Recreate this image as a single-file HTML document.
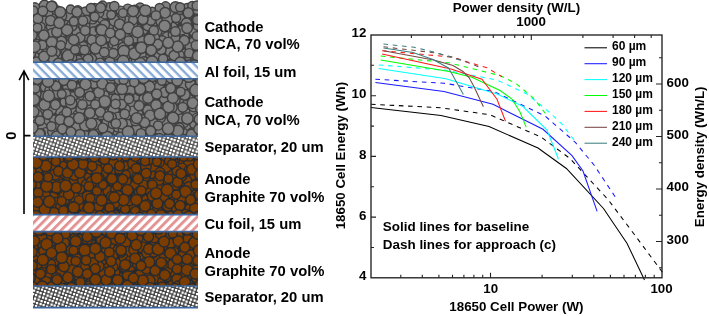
<!DOCTYPE html>
<html><head><meta charset="utf-8"><title>Cell stack and Ragone plot</title>
<style>
html,body{margin:0;padding:0;background:#fff}
svg{display:block}
text{font-family:"Liberation Sans",Arial,Helvetica,sans-serif;font-weight:bold;fill:#000}
.l{font-size:14.8px}
.a{font-size:13.33px}
.g{font-size:12px}
.c{fill:none;stroke-width:1.05}
.d{stroke-dasharray:4.6 4.7}
.t{stroke:#222;stroke-width:1.1;fill:none}
</style></head><body>
<svg width="709" height="316" viewBox="0 0 709 316">
<rect width="709" height="316" fill="#fff"/>
<defs>
<pattern id="al" width="6.2" height="6.2" patternUnits="userSpaceOnUse" patternTransform="rotate(45)"><rect width="6.2" height="6.2" fill="#fff"/><rect width="6.2" height="2.3" fill="#88aad8"/></pattern>
<pattern id="cu" width="6.2" height="6.2" patternUnits="userSpaceOnUse" patternTransform="rotate(-45)"><rect width="6.2" height="6.2" fill="#fff"/><rect width="6.2" height="2.9" fill="#e29494"/></pattern>
<clipPath id="kc1"><rect x="33" y="0" width="165" height="62"/></clipPath>
<clipPath id="kc2"><rect x="33" y="79" width="165" height="57"/></clipPath>
<clipPath id="ka1"><rect x="33" y="157" width="165" height="57"/></clipPath>
<clipPath id="ka2"><rect x="33" y="232" width="165" height="54"/></clipPath>
</defs>
<g clip-path="url(#kc1)"><rect x="33" y="9" width="165" height="53" fill="#404040"/><g fill="#808080" stroke="#404040" stroke-width="1.45"><circle cx="113.2" cy="38.3" r="4.6"/><circle cx="69.3" cy="16.7" r="5.0"/><circle cx="42.6" cy="58.9" r="4.8"/><circle cx="70.6" cy="63.5" r="5.0"/><circle cx="89.1" cy="45.4" r="4.9"/><circle cx="174.4" cy="20.8" r="5.2"/><circle cx="109.3" cy="28.8" r="5.4"/><circle cx="101.9" cy="34.4" r="5.0"/><circle cx="75.0" cy="20.1" r="4.3"/><circle cx="189.3" cy="28.4" r="4.3"/><circle cx="196.8" cy="19.6" r="5.1"/><circle cx="140.1" cy="7.8" r="4.8"/><circle cx="100.3" cy="20.0" r="5.3"/><circle cx="85.6" cy="35.8" r="5.2"/><circle cx="187.8" cy="58.3" r="4.5"/><circle cx="60.8" cy="64.2" r="5.5"/><circle cx="161.8" cy="33.9" r="4.3"/><circle cx="143.3" cy="29.9" r="4.6"/><circle cx="118.1" cy="28.1" r="5.0"/><circle cx="39.1" cy="20.7" r="4.9"/><circle cx="169.9" cy="41.8" r="5.2"/><circle cx="148.2" cy="38.1" r="4.4"/><circle cx="59.4" cy="57.2" r="5.6"/><circle cx="156.9" cy="16.7" r="5.3"/><circle cx="167.4" cy="63.6" r="5.5"/><circle cx="84.5" cy="65.0" r="4.3"/><circle cx="45.5" cy="52.7" r="5.2"/><circle cx="193.8" cy="41.7" r="4.9"/><circle cx="71.8" cy="37.6" r="5.2"/><circle cx="167.0" cy="36.7" r="4.9"/><circle cx="156.1" cy="25.0" r="5.0"/><circle cx="68.7" cy="31.7" r="5.4"/><circle cx="178.7" cy="46.4" r="4.4"/><circle cx="100.8" cy="62.2" r="5.5"/><circle cx="102.7" cy="40.6" r="4.3"/><circle cx="143.8" cy="56.4" r="4.8"/><circle cx="65.9" cy="59.2" r="4.9"/><circle cx="130.9" cy="15.1" r="4.6"/><circle cx="172.6" cy="34.5" r="4.3"/><circle cx="126.5" cy="29.9" r="4.2"/><circle cx="77.8" cy="10.6" r="4.8"/><circle cx="107.4" cy="36.5" r="5.5"/><circle cx="94.7" cy="7.9" r="4.4"/><circle cx="134.6" cy="10.5" r="5.3"/><circle cx="125.8" cy="20.5" r="4.7"/><circle cx="118.8" cy="41.7" r="4.9"/><circle cx="78.5" cy="25.6" r="5.1"/><circle cx="140.8" cy="46.0" r="4.8"/><circle cx="33.9" cy="40.1" r="5.2"/><circle cx="156.6" cy="56.3" r="4.7"/><circle cx="200.3" cy="49.7" r="5.2"/><circle cx="121.9" cy="61.9" r="4.5"/><circle cx="38.3" cy="49.4" r="4.4"/><circle cx="72.9" cy="52.3" r="4.3"/><circle cx="199.9" cy="57.2" r="5.2"/><circle cx="105.3" cy="54.5" r="4.3"/><circle cx="161.9" cy="40.9" r="5.1"/><circle cx="74.8" cy="43.5" r="4.5"/><circle cx="83.3" cy="45.8" r="4.3"/><circle cx="138.9" cy="35.3" r="5.3"/><circle cx="194.7" cy="61.4" r="4.3"/><circle cx="55.8" cy="38.8" r="4.2"/><circle cx="46.0" cy="28.9" r="4.3"/><circle cx="38.3" cy="35.1" r="4.7"/><circle cx="129.9" cy="59.1" r="4.3"/><circle cx="96.4" cy="47.9" r="5.0"/><circle cx="61.6" cy="33.4" r="5.1"/><circle cx="51.6" cy="17.7" r="4.9"/><circle cx="62.6" cy="47.7" r="4.4"/><circle cx="62.5" cy="16.0" r="4.2"/><circle cx="78.8" cy="49.2" r="4.5"/><circle cx="76.0" cy="30.9" r="4.4"/><circle cx="32.6" cy="34.5" r="4.3"/><circle cx="116.2" cy="63.9" r="5.3"/><circle cx="165.2" cy="56.2" r="5.0"/><circle cx="175.6" cy="39.9" r="5.4"/><circle cx="54.7" cy="52.4" r="5.6"/><circle cx="112.2" cy="15.2" r="5.2"/><circle cx="109.2" cy="8.3" r="5.6"/><circle cx="137.6" cy="29.2" r="5.1"/><circle cx="68.9" cy="44.8" r="4.7"/><circle cx="91.1" cy="65.0" r="4.3"/><circle cx="94.6" cy="25.3" r="5.4"/><circle cx="150.0" cy="56.6" r="4.2"/><circle cx="156.8" cy="31.1" r="5.3"/><circle cx="134.2" cy="38.4" r="4.6"/><circle cx="102.6" cy="5.2" r="4.2"/><circle cx="44.9" cy="21.8" r="5.5"/><circle cx="171.3" cy="13.8" r="5.0"/><circle cx="165.6" cy="6.4" r="4.6"/><circle cx="30.2" cy="62.6" r="5.3"/><circle cx="86.7" cy="53.8" r="4.3"/><circle cx="149.9" cy="62.6" r="4.2"/><circle cx="66.0" cy="25.8" r="5.4"/><circle cx="137.6" cy="50.7" r="4.6"/><circle cx="104.7" cy="24.6" r="4.8"/><circle cx="160.8" cy="21.4" r="4.9"/><circle cx="48.6" cy="12.2" r="4.5"/><circle cx="197.1" cy="10.0" r="4.5"/><circle cx="48.5" cy="64.2" r="4.8"/><circle cx="152.1" cy="11.9" r="4.6"/><circle cx="84.8" cy="59.2" r="5.4"/><circle cx="94.4" cy="37.1" r="5.4"/><circle cx="129.2" cy="49.3" r="5.3"/><circle cx="92.5" cy="18.8" r="5.1"/><circle cx="162.4" cy="13.6" r="4.7"/><circle cx="85.6" cy="11.8" r="4.9"/><circle cx="194.0" cy="31.6" r="5.0"/><circle cx="187.8" cy="14.4" r="5.6"/><circle cx="135.3" cy="19.1" r="4.7"/><circle cx="200.6" cy="64.7" r="5.4"/><circle cx="108.9" cy="48.9" r="4.7"/><circle cx="197.6" cy="26.0" r="4.3"/><circle cx="40.3" cy="11.7" r="4.7"/><circle cx="132.8" cy="24.3" r="4.8"/><circle cx="185.3" cy="53.2" r="4.5"/><circle cx="32.3" cy="45.7" r="5.4"/><circle cx="93.8" cy="31.3" r="4.5"/><circle cx="77.9" cy="59.7" r="4.5"/><circle cx="147.9" cy="25.4" r="5.3"/><circle cx="50.1" cy="46.2" r="5.0"/><circle cx="187.2" cy="8.5" r="5.1"/><circle cx="44.4" cy="5.6" r="5.2"/><circle cx="140.1" cy="14.0" r="5.1"/><circle cx="61.5" cy="41.4" r="5.1"/><circle cx="193.8" cy="55.1" r="4.2"/><circle cx="154.9" cy="37.5" r="4.6"/><circle cx="98.5" cy="55.1" r="4.7"/><circle cx="159.6" cy="7.9" r="4.5"/><circle cx="91.0" cy="59.2" r="5.6"/><circle cx="71.7" cy="25.7" r="5.3"/><circle cx="127.8" cy="8.8" r="4.7"/><circle cx="200.2" cy="41.6" r="5.3"/><circle cx="37.2" cy="63.8" r="5.6"/><circle cx="45.4" cy="38.0" r="4.5"/><circle cx="125.7" cy="55.5" r="5.1"/><circle cx="102.7" cy="47.1" r="5.5"/><circle cx="65.5" cy="53.3" r="4.4"/><circle cx="184.4" cy="35.8" r="4.7"/><circle cx="172.3" cy="27.6" r="5.3"/><circle cx="71.6" cy="57.8" r="5.1"/><circle cx="118.2" cy="35.5" r="5.0"/><circle cx="42.4" cy="45.0" r="4.7"/><circle cx="178.2" cy="12.1" r="4.4"/><circle cx="184.9" cy="43.0" r="4.8"/><circle cx="148.8" cy="43.8" r="4.5"/><circle cx="174.5" cy="58.6" r="4.5"/><circle cx="84.3" cy="26.2" r="5.5"/><circle cx="56.9" cy="10.5" r="4.7"/><circle cx="189.6" cy="64.3" r="4.3"/><circle cx="166.2" cy="46.4" r="5.0"/><circle cx="105.0" cy="14.3" r="4.6"/><circle cx="181.6" cy="30.2" r="4.8"/><circle cx="176.6" cy="64.1" r="4.6"/><circle cx="182.4" cy="63.7" r="5.1"/><circle cx="141.8" cy="40.1" r="4.4"/><circle cx="34.9" cy="7.4" r="4.6"/><circle cx="166.2" cy="25.7" r="5.2"/><circle cx="58.0" cy="22.9" r="5.0"/><circle cx="200.5" cy="34.4" r="4.5"/><circle cx="151.0" cy="20.7" r="4.5"/><circle cx="146.0" cy="13.4" r="4.4"/><circle cx="167.4" cy="20.0" r="5.4"/><circle cx="132.2" cy="31.0" r="4.8"/><circle cx="120.5" cy="10.6" r="4.5"/><circle cx="100.1" cy="29.0" r="4.9"/><circle cx="126.6" cy="38.6" r="5.1"/><circle cx="80.1" cy="16.7" r="4.4"/><circle cx="110.1" cy="63.6" r="5.3"/><circle cx="179.6" cy="55.2" r="4.6"/><circle cx="144.0" cy="62.1" r="5.4"/><circle cx="142.6" cy="20.2" r="5.1"/><circle cx="40.5" cy="26.9" r="4.7"/><circle cx="160.9" cy="63.8" r="4.7"/><circle cx="51.5" cy="26.4" r="5.2"/><circle cx="175.5" cy="7.1" r="5.4"/><circle cx="53.2" cy="58.8" r="5.0"/><circle cx="135.7" cy="60.2" r="4.4"/><circle cx="99.3" cy="12.9" r="4.4"/><circle cx="32.8" cy="17.7" r="4.8"/><circle cx="80.1" cy="37.5" r="4.9"/><circle cx="120.1" cy="19.1" r="5.2"/><circle cx="180.6" cy="18.5" r="4.2"/><circle cx="33.9" cy="25.6" r="4.7"/><circle cx="35.4" cy="56.8" r="4.3"/><circle cx="189.5" cy="47.0" r="4.4"/><circle cx="30.2" cy="53.4" r="5.4"/><circle cx="51.9" cy="33.1" r="4.5"/><circle cx="86.3" cy="19.5" r="4.3"/><circle cx="113.2" cy="44.1" r="4.7"/><circle cx="116.5" cy="48.8" r="4.7"/><circle cx="114.9" cy="54.5" r="5.4"/><circle cx="170.1" cy="51.3" r="5.1"/><circle cx="114.5" cy="20.7" r="5.4"/><circle cx="186.5" cy="23.1" r="5.2"/><circle cx="123.4" cy="48.0" r="5.5"/><circle cx="161.2" cy="49.8" r="4.8"/><circle cx="149.9" cy="49.6" r="5.6"/><circle cx="70.6" cy="9.4" r="4.3"/><circle cx="52.2" cy="6.0" r="4.9"/><circle cx="192.3" cy="5.9" r="4.5"/><circle cx="156.0" cy="45.8" r="5.3"/><circle cx="153.8" cy="30.4" r="4.6"/><circle cx="142.9" cy="19.3" r="5.1"/><circle cx="91.0" cy="8.1" r="4.7"/><circle cx="123.8" cy="51.3" r="5.8"/><circle cx="85.2" cy="30.6" r="4.8"/><circle cx="197.2" cy="20.0" r="4.5"/><circle cx="176.1" cy="17.9" r="4.5"/><circle cx="56.9" cy="32.0" r="5.2"/><circle cx="128.7" cy="40.8" r="4.8"/><circle cx="58.4" cy="63.4" r="5.1"/><circle cx="51.8" cy="42.2" r="5.5"/><circle cx="196.5" cy="36.0" r="4.4"/><circle cx="92.0" cy="40.1" r="5.0"/><circle cx="36.4" cy="62.1" r="5.1"/><circle cx="133.1" cy="20.2" r="4.4"/><circle cx="140.1" cy="63.4" r="5.8"/><circle cx="189.1" cy="53.2" r="4.6"/><circle cx="119.7" cy="24.2" r="5.2"/><circle cx="145.3" cy="10.6" r="5.7"/><circle cx="51.6" cy="6.5" r="5.3"/><circle cx="109.8" cy="61.8" r="4.8"/><circle cx="111.2" cy="14.8" r="4.4"/><circle cx="101.8" cy="30.0" r="5.6"/><circle cx="73.7" cy="39.9" r="5.2"/><circle cx="33.2" cy="10.5" r="4.6"/><circle cx="88.0" cy="59.1" r="4.9"/><circle cx="188.3" cy="12.8" r="5.1"/><circle cx="128.5" cy="27.9" r="5.9"/><circle cx="187.1" cy="28.1" r="5.3"/><circle cx="174.1" cy="55.5" r="5.1"/><circle cx="157.9" cy="44.2" r="4.9"/><circle cx="134.5" cy="53.7" r="5.9"/><circle cx="197.7" cy="56.1" r="5.3"/><circle cx="196.0" cy="45.3" r="4.8"/><circle cx="141.3" cy="47.7" r="5.7"/><circle cx="68.1" cy="55.8" r="5.9"/><circle cx="164.6" cy="25.9" r="5.7"/><circle cx="50.6" cy="20.6" r="5.2"/><circle cx="184.3" cy="40.5" r="5.0"/><circle cx="44.0" cy="56.5" r="5.3"/><circle cx="114.3" cy="6.2" r="4.7"/><circle cx="95.6" cy="48.3" r="5.6"/><circle cx="101.1" cy="40.5" r="5.3"/><circle cx="31.5" cy="35.0" r="5.8"/><circle cx="113.3" cy="53.3" r="4.8"/><circle cx="196.7" cy="5.5" r="4.6"/><circle cx="149.5" cy="39.5" r="5.5"/><circle cx="60.2" cy="12.1" r="5.4"/><circle cx="163.1" cy="58.8" r="4.6"/><circle cx="151.2" cy="50.3" r="5.3"/><circle cx="152.1" cy="61.7" r="5.8"/><circle cx="180.3" cy="62.3" r="5.3"/><circle cx="177.7" cy="46.6" r="5.6"/><circle cx="171.0" cy="64.3" r="4.4"/><circle cx="110.3" cy="33.0" r="4.9"/><circle cx="94.7" cy="16.8" r="4.5"/><circle cx="37.8" cy="18.7" r="5.0"/><circle cx="60.8" cy="45.2" r="4.5"/><circle cx="165.1" cy="12.8" r="5.3"/><circle cx="175.4" cy="31.5" r="4.8"/><circle cx="75.1" cy="49.8" r="4.5"/><circle cx="84.5" cy="50.0" r="4.8"/><circle cx="122.9" cy="13.0" r="4.4"/><circle cx="67.1" cy="30.0" r="5.6"/><circle cx="77.0" cy="12.0" r="5.1"/><circle cx="43.8" cy="35.3" r="5.2"/><circle cx="70.7" cy="64.5" r="4.8"/><circle cx="99.9" cy="63.1" r="5.0"/><circle cx="114.2" cy="41.1" r="4.5"/><circle cx="73.9" cy="21.5" r="4.5"/><circle cx="83.0" cy="20.8" r="4.7"/><circle cx="137.6" cy="31.9" r="5.8"/><circle cx="59.3" cy="23.0" r="5.4"/><circle cx="104.3" cy="52.2" r="4.8"/><circle cx="80.3" cy="63.9" r="5.1"/><circle cx="123.2" cy="61.1" r="5.9"/><circle cx="34.6" cy="46.8" r="5.7"/><circle cx="180.1" cy="7.3" r="4.5"/><circle cx="42.8" cy="11.1" r="4.8"/><circle cx="133.1" cy="11.2" r="5.5"/><circle cx="120.2" cy="34.4" r="5.2"/><circle cx="51.8" cy="51.2" r="5.0"/><circle cx="168.2" cy="42.8" r="5.4"/><circle cx="37.4" cy="27.8" r="4.5"/><circle cx="194.3" cy="64.6" r="4.6"/><circle cx="100.6" cy="7.8" r="5.0"/><circle cx="155.9" cy="15.4" r="4.7"/></g></g>
<g clip-path="url(#kc2)"><rect x="33" y="79" width="165" height="57" fill="#404040"/><g fill="#808080" stroke="#404040" stroke-width="1.45"><circle cx="42.8" cy="119.3" r="4.7"/><circle cx="129.2" cy="76.6" r="4.2"/><circle cx="94.4" cy="97.0" r="4.7"/><circle cx="62.3" cy="129.7" r="4.2"/><circle cx="155.0" cy="82.6" r="4.6"/><circle cx="68.9" cy="109.9" r="5.3"/><circle cx="136.7" cy="96.7" r="5.6"/><circle cx="186.8" cy="128.2" r="4.4"/><circle cx="92.1" cy="119.5" r="5.1"/><circle cx="115.1" cy="83.3" r="4.7"/><circle cx="192.9" cy="138.2" r="5.3"/><circle cx="39.8" cy="109.3" r="5.3"/><circle cx="184.9" cy="79.7" r="5.3"/><circle cx="59.6" cy="110.5" r="5.0"/><circle cx="189.1" cy="90.1" r="5.4"/><circle cx="45.5" cy="95.7" r="5.2"/><circle cx="109.6" cy="98.6" r="5.2"/><circle cx="77.8" cy="88.7" r="4.8"/><circle cx="124.0" cy="136.3" r="4.9"/><circle cx="180.8" cy="102.9" r="4.5"/><circle cx="111.3" cy="89.0" r="5.3"/><circle cx="138.1" cy="113.9" r="4.9"/><circle cx="150.5" cy="89.5" r="4.6"/><circle cx="48.5" cy="81.3" r="4.3"/><circle cx="41.5" cy="81.9" r="4.9"/><circle cx="149.1" cy="117.2" r="5.2"/><circle cx="74.6" cy="109.6" r="5.5"/><circle cx="155.0" cy="128.0" r="5.3"/><circle cx="43.5" cy="103.4" r="4.7"/><circle cx="111.0" cy="79.2" r="5.2"/><circle cx="97.9" cy="108.5" r="5.1"/><circle cx="119.4" cy="79.3" r="5.4"/><circle cx="33.7" cy="102.0" r="5.2"/><circle cx="133.8" cy="82.4" r="5.2"/><circle cx="80.8" cy="96.9" r="5.1"/><circle cx="67.3" cy="79.7" r="5.5"/><circle cx="141.5" cy="119.9" r="5.5"/><circle cx="169.5" cy="101.2" r="4.8"/><circle cx="168.6" cy="116.2" r="4.4"/><circle cx="30.7" cy="81.4" r="4.2"/><circle cx="51.4" cy="139.0" r="4.9"/><circle cx="67.2" cy="86.6" r="4.6"/><circle cx="103.5" cy="110.1" r="5.4"/><circle cx="45.6" cy="138.2" r="5.5"/><circle cx="64.5" cy="101.9" r="4.4"/><circle cx="78.0" cy="103.5" r="4.7"/><circle cx="81.4" cy="121.2" r="5.6"/><circle cx="148.3" cy="124.3" r="4.5"/><circle cx="174.2" cy="122.8" r="5.3"/><circle cx="85.5" cy="105.1" r="4.6"/><circle cx="138.7" cy="105.4" r="5.1"/><circle cx="92.5" cy="77.9" r="4.9"/><circle cx="165.3" cy="123.0" r="5.3"/><circle cx="97.4" cy="91.5" r="4.8"/><circle cx="190.7" cy="119.7" r="5.0"/><circle cx="124.0" cy="87.2" r="5.2"/><circle cx="189.6" cy="98.8" r="4.6"/><circle cx="109.0" cy="105.8" r="4.2"/><circle cx="104.4" cy="138.1" r="4.2"/><circle cx="77.6" cy="114.7" r="4.4"/><circle cx="121.5" cy="98.3" r="5.3"/><circle cx="105.9" cy="87.3" r="5.1"/><circle cx="37.7" cy="87.9" r="4.2"/><circle cx="125.7" cy="115.4" r="5.5"/><circle cx="143.5" cy="137.1" r="4.9"/><circle cx="36.3" cy="93.4" r="4.7"/><circle cx="187.9" cy="113.8" r="5.1"/><circle cx="144.4" cy="98.6" r="5.4"/><circle cx="115.9" cy="105.0" r="4.4"/><circle cx="199.0" cy="132.6" r="5.5"/><circle cx="45.0" cy="87.1" r="4.6"/><circle cx="193.6" cy="112.1" r="4.2"/><circle cx="68.8" cy="125.8" r="4.6"/><circle cx="114.7" cy="133.3" r="4.4"/><circle cx="173.3" cy="128.9" r="5.1"/><circle cx="104.6" cy="95.3" r="4.5"/><circle cx="139.3" cy="90.5" r="4.9"/><circle cx="34.8" cy="127.8" r="4.8"/><circle cx="117.4" cy="127.0" r="4.9"/><circle cx="174.1" cy="114.3" r="5.3"/><circle cx="136.4" cy="138.3" r="4.5"/><circle cx="178.4" cy="78.9" r="4.3"/><circle cx="32.2" cy="86.8" r="4.4"/><circle cx="194.6" cy="92.1" r="4.3"/><circle cx="194.5" cy="123.9" r="4.8"/><circle cx="72.0" cy="97.1" r="5.4"/><circle cx="82.4" cy="77.6" r="5.4"/><circle cx="108.6" cy="129.9" r="5.4"/><circle cx="145.2" cy="86.8" r="4.8"/><circle cx="36.4" cy="79.6" r="5.1"/><circle cx="47.5" cy="122.4" r="5.1"/><circle cx="165.8" cy="133.7" r="4.2"/><circle cx="48.6" cy="114.9" r="4.5"/><circle cx="200.7" cy="125.1" r="4.8"/><circle cx="130.6" cy="132.8" r="5.3"/><circle cx="118.3" cy="138.7" r="4.5"/><circle cx="51.3" cy="109.7" r="5.2"/><circle cx="113.7" cy="110.3" r="5.6"/><circle cx="159.9" cy="117.5" r="5.5"/><circle cx="30.1" cy="107.6" r="4.7"/><circle cx="132.5" cy="105.3" r="5.1"/><circle cx="175.8" cy="99.9" r="4.3"/><circle cx="184.3" cy="85.5" r="5.4"/><circle cx="52.0" cy="97.7" r="4.6"/><circle cx="191.4" cy="76.5" r="4.7"/><circle cx="90.1" cy="109.2" r="4.5"/><circle cx="99.6" cy="99.9" r="4.7"/><circle cx="36.8" cy="115.0" r="5.6"/><circle cx="54.8" cy="103.7" r="4.4"/><circle cx="152.9" cy="102.1" r="5.0"/><circle cx="184.0" cy="123.0" r="4.4"/><circle cx="177.6" cy="133.7" r="4.7"/><circle cx="127.9" cy="82.3" r="4.4"/><circle cx="115.5" cy="98.7" r="4.6"/><circle cx="177.0" cy="92.4" r="4.3"/><circle cx="138.9" cy="79.3" r="4.8"/><circle cx="199.9" cy="95.0" r="4.2"/><circle cx="106.8" cy="122.2" r="4.7"/><circle cx="62.4" cy="123.2" r="5.5"/><circle cx="149.2" cy="79.2" r="4.4"/><circle cx="180.2" cy="118.2" r="4.8"/><circle cx="73.6" cy="119.0" r="5.2"/><circle cx="83.4" cy="115.2" r="4.4"/><circle cx="54.5" cy="125.9" r="4.9"/><circle cx="173.5" cy="84.1" r="4.3"/><circle cx="178.2" cy="109.8" r="5.0"/><circle cx="190.6" cy="84.4" r="5.2"/><circle cx="118.7" cy="90.0" r="4.8"/><circle cx="130.5" cy="90.7" r="5.0"/><circle cx="42.1" cy="127.7" r="5.3"/><circle cx="141.4" cy="126.4" r="4.9"/><circle cx="159.5" cy="107.2" r="4.3"/><circle cx="45.8" cy="132.0" r="4.4"/><circle cx="132.8" cy="111.2" r="5.1"/><circle cx="163.9" cy="99.1" r="4.4"/><circle cx="200.7" cy="107.7" r="4.2"/><circle cx="71.3" cy="103.4" r="5.6"/><circle cx="58.7" cy="134.2" r="4.7"/><circle cx="100.8" cy="79.3" r="4.3"/><circle cx="94.4" cy="132.0" r="4.6"/><circle cx="78.8" cy="135.0" r="5.0"/><circle cx="156.5" cy="76.5" r="5.2"/><circle cx="67.7" cy="133.9" r="4.9"/><circle cx="118.0" cy="116.8" r="4.6"/><circle cx="40.4" cy="133.6" r="4.9"/><circle cx="84.9" cy="83.9" r="5.1"/><circle cx="151.4" cy="132.9" r="5.3"/><circle cx="196.9" cy="117.8" r="4.7"/><circle cx="163.1" cy="112.5" r="5.1"/><circle cx="54.4" cy="76.7" r="4.7"/><circle cx="73.1" cy="78.9" r="5.3"/><circle cx="191.9" cy="132.3" r="4.4"/><circle cx="94.3" cy="83.7" r="4.7"/><circle cx="88.4" cy="91.2" r="4.2"/><circle cx="33.9" cy="138.4" r="4.2"/><circle cx="49.5" cy="90.8" r="4.7"/><circle cx="54.1" cy="119.6" r="4.5"/><circle cx="155.8" cy="111.5" r="4.2"/><circle cx="49.2" cy="102.7" r="4.4"/><circle cx="129.2" cy="97.9" r="4.7"/><circle cx="127.7" cy="123.9" r="4.5"/><circle cx="155.6" cy="95.2" r="4.4"/><circle cx="112.5" cy="124.3" r="4.2"/><circle cx="199.1" cy="76.4" r="4.8"/><circle cx="76.9" cy="127.1" r="5.2"/><circle cx="186.7" cy="104.4" r="4.4"/><circle cx="126.0" cy="109.1" r="4.3"/><circle cx="100.5" cy="114.9" r="4.6"/><circle cx="171.3" cy="95.7" r="4.6"/><circle cx="121.7" cy="104.3" r="4.9"/><circle cx="183.5" cy="133.4" r="4.9"/><circle cx="165.7" cy="80.0" r="4.8"/><circle cx="171.1" cy="77.7" r="5.4"/><circle cx="30.4" cy="133.7" r="4.9"/><circle cx="159.0" cy="87.0" r="5.0"/><circle cx="63.6" cy="116.2" r="5.1"/><circle cx="186.3" cy="138.9" r="4.3"/><circle cx="99.2" cy="129.1" r="4.2"/><circle cx="172.1" cy="107.3" r="5.1"/><circle cx="123.0" cy="129.4" r="4.7"/><circle cx="85.1" cy="125.6" r="5.4"/><circle cx="96.6" cy="137.2" r="4.4"/><circle cx="80.8" cy="109.2" r="4.9"/><circle cx="35.2" cy="121.8" r="5.6"/><circle cx="193.9" cy="106.3" r="5.5"/><circle cx="172.5" cy="138.8" r="5.2"/><circle cx="54.8" cy="88.3" r="5.5"/><circle cx="90.7" cy="138.8" r="4.7"/><circle cx="145.8" cy="130.8" r="5.1"/><circle cx="136.5" cy="129.4" r="5.1"/><circle cx="135.4" cy="121.0" r="4.7"/><circle cx="52.5" cy="131.8" r="4.8"/><circle cx="160.2" cy="132.9" r="4.8"/><circle cx="198.2" cy="87.9" r="5.5"/><circle cx="65.7" cy="93.8" r="4.9"/><circle cx="57.9" cy="93.1" r="5.5"/><circle cx="153.6" cy="122.5" r="4.3"/><circle cx="30.6" cy="92.7" r="5.6"/><circle cx="164.9" cy="92.2" r="5.2"/><circle cx="85.4" cy="135.5" r="4.7"/><circle cx="88.1" cy="100.0" r="5.4"/><circle cx="94.2" cy="113.5" r="5.6"/><circle cx="103.4" cy="104.3" r="5.1"/><circle cx="110.1" cy="137.9" r="5.1"/><circle cx="184.7" cy="94.8" r="5.4"/><circle cx="122.0" cy="123.7" r="5.3"/><circle cx="111.2" cy="117.4" r="5.1"/><circle cx="72.4" cy="137.9" r="5.2"/><circle cx="157.6" cy="138.6" r="4.9"/><circle cx="95.8" cy="124.0" r="5.3"/><circle cx="170.6" cy="89.1" r="4.7"/><circle cx="198.4" cy="101.6" r="5.5"/><circle cx="61.3" cy="79.9" r="5.5"/><circle cx="31.0" cy="116.3" r="5.2"/><circle cx="147.8" cy="110.1" r="5.1"/><circle cx="179.4" cy="127.7" r="4.7"/><circle cx="91.4" cy="123.6" r="5.5"/><circle cx="98.9" cy="92.6" r="5.4"/><circle cx="191.5" cy="134.4" r="5.1"/><circle cx="188.7" cy="76.7" r="5.6"/><circle cx="56.0" cy="86.1" r="4.8"/><circle cx="168.6" cy="138.3" r="5.1"/><circle cx="168.5" cy="107.0" r="5.7"/><circle cx="33.9" cy="99.7" r="5.7"/><circle cx="115.9" cy="123.5" r="4.7"/><circle cx="158.1" cy="125.5" r="4.6"/><circle cx="198.9" cy="129.2" r="5.1"/><circle cx="173.1" cy="118.0" r="5.8"/><circle cx="35.5" cy="88.6" r="4.4"/><circle cx="111.4" cy="76.0" r="4.5"/><circle cx="74.4" cy="76.1" r="5.8"/><circle cx="182.8" cy="107.3" r="4.8"/><circle cx="66.7" cy="112.0" r="4.7"/><circle cx="148.0" cy="97.9" r="5.3"/><circle cx="89.8" cy="113.1" r="5.3"/><circle cx="149.4" cy="86.6" r="5.5"/><circle cx="177.9" cy="130.9" r="5.7"/><circle cx="172.9" cy="97.9" r="5.4"/><circle cx="156.7" cy="94.0" r="5.0"/><circle cx="61.7" cy="94.1" r="4.4"/><circle cx="107.1" cy="137.1" r="5.9"/><circle cx="156.1" cy="105.1" r="5.3"/><circle cx="55.4" cy="104.7" r="4.9"/><circle cx="187.4" cy="118.5" r="5.7"/><circle cx="150.0" cy="115.5" r="5.4"/><circle cx="102.9" cy="128.0" r="4.9"/><circle cx="115.6" cy="104.0" r="4.7"/><circle cx="102.3" cy="83.6" r="5.5"/><circle cx="48.1" cy="81.5" r="5.8"/><circle cx="85.5" cy="84.4" r="5.6"/><circle cx="93.5" cy="134.8" r="5.1"/><circle cx="100.3" cy="112.0" r="5.1"/><circle cx="159.3" cy="138.2" r="4.7"/><circle cx="79.6" cy="92.4" r="4.9"/><circle cx="150.6" cy="131.0" r="5.0"/><circle cx="89.9" cy="96.1" r="4.9"/><circle cx="44.6" cy="104.8" r="5.6"/><circle cx="180.6" cy="91.8" r="4.5"/><circle cx="199.9" cy="81.6" r="4.4"/><circle cx="39.9" cy="120.6" r="4.7"/><circle cx="79.1" cy="118.1" r="5.6"/><circle cx="177.3" cy="80.7" r="5.3"/><circle cx="37.3" cy="79.2" r="5.2"/><circle cx="60.1" cy="119.6" r="5.1"/><circle cx="82.4" cy="104.6" r="4.8"/><circle cx="140.1" cy="89.0" r="5.5"/><circle cx="152.7" cy="76.5" r="4.9"/><circle cx="124.7" cy="114.0" r="4.7"/><circle cx="56.9" cy="136.9" r="5.8"/><circle cx="168.2" cy="128.7" r="5.8"/><circle cx="120.7" cy="137.1" r="5.0"/><circle cx="51.4" cy="126.3" r="4.6"/><circle cx="122.1" cy="89.0" r="5.5"/><circle cx="128.9" cy="99.1" r="4.6"/><circle cx="143.5" cy="77.8" r="5.6"/><circle cx="199.1" cy="119.3" r="5.0"/><circle cx="108.4" cy="116.5" r="5.1"/><circle cx="80.0" cy="134.3" r="4.9"/><circle cx="62.4" cy="129.0" r="4.9"/><circle cx="47.8" cy="114.3" r="4.9"/><circle cx="159.9" cy="114.0" r="5.7"/><circle cx="70.2" cy="100.2" r="4.7"/><circle cx="123.6" cy="79.6" r="4.7"/><circle cx="39.7" cy="133.7" r="5.0"/><circle cx="128.2" cy="131.9" r="5.9"/><circle cx="110.6" cy="87.6" r="4.9"/><circle cx="200.5" cy="98.9" r="5.8"/><circle cx="195.6" cy="90.2" r="5.8"/><circle cx="141.0" cy="133.5" r="4.8"/><circle cx="139.1" cy="105.8" r="5.0"/><circle cx="134.2" cy="82.0" r="4.6"/><circle cx="144.6" cy="122.5" r="5.1"/><circle cx="48.7" cy="95.9" r="5.8"/><circle cx="33.4" cy="111.7" r="5.5"/><circle cx="192.7" cy="103.1" r="5.5"/><circle cx="170.6" cy="88.2" r="4.9"/><circle cx="69.0" cy="121.5" r="5.1"/><circle cx="63.9" cy="80.2" r="5.2"/><circle cx="32.3" cy="127.7" r="5.6"/><circle cx="161.9" cy="80.7" r="4.5"/><circle cx="95.5" cy="77.0" r="4.8"/><circle cx="72.0" cy="85.0" r="4.7"/><circle cx="136.7" cy="118.1" r="5.4"/><circle cx="183.4" cy="138.9" r="4.5"/><circle cx="104.8" cy="101.5" r="5.9"/><circle cx="70.9" cy="132.0" r="4.9"/><circle cx="95.3" cy="104.3" r="4.6"/><circle cx="200.4" cy="108.8" r="4.7"/></g></g>
<g clip-path="url(#ka1)"><rect x="33" y="157" width="165" height="57" fill="#272b30"/><g fill="#7a3c00" stroke="#272b30" stroke-width="1.45"><circle cx="177.4" cy="200.6" r="5.0"/><circle cx="87.3" cy="213.8" r="4.8"/><circle cx="170.1" cy="199.8" r="4.4"/><circle cx="101.2" cy="216.6" r="5.3"/><circle cx="128.0" cy="156.2" r="5.3"/><circle cx="80.4" cy="197.8" r="5.5"/><circle cx="59.5" cy="197.0" r="4.4"/><circle cx="142.8" cy="198.7" r="5.2"/><circle cx="64.9" cy="176.1" r="4.3"/><circle cx="178.1" cy="217.0" r="5.3"/><circle cx="134.3" cy="186.2" r="5.3"/><circle cx="192.3" cy="204.0" r="4.6"/><circle cx="102.6" cy="193.2" r="5.4"/><circle cx="132.5" cy="206.3" r="5.1"/><circle cx="38.9" cy="156.0" r="5.2"/><circle cx="199.3" cy="156.7" r="4.9"/><circle cx="121.3" cy="205.2" r="4.9"/><circle cx="154.3" cy="160.8" r="5.2"/><circle cx="30.5" cy="216.9" r="4.4"/><circle cx="114.7" cy="202.9" r="5.3"/><circle cx="135.5" cy="211.8" r="5.2"/><circle cx="172.7" cy="154.4" r="4.7"/><circle cx="144.6" cy="172.5" r="5.0"/><circle cx="181.5" cy="204.6" r="4.5"/><circle cx="139.3" cy="169.1" r="4.4"/><circle cx="153.2" cy="155.1" r="5.0"/><circle cx="123.8" cy="160.3" r="4.7"/><circle cx="198.2" cy="173.4" r="4.7"/><circle cx="92.7" cy="158.6" r="5.1"/><circle cx="110.9" cy="185.7" r="4.5"/><circle cx="193.1" cy="178.6" r="5.2"/><circle cx="142.1" cy="217.0" r="5.1"/><circle cx="120.2" cy="180.1" r="4.6"/><circle cx="194.8" cy="163.3" r="5.3"/><circle cx="104.3" cy="185.4" r="5.5"/><circle cx="168.5" cy="172.8" r="5.0"/><circle cx="86.7" cy="176.9" r="4.2"/><circle cx="72.3" cy="207.6" r="5.4"/><circle cx="124.0" cy="187.9" r="4.5"/><circle cx="182.7" cy="188.4" r="4.4"/><circle cx="33.5" cy="203.7" r="4.7"/><circle cx="97.7" cy="162.2" r="4.9"/><circle cx="65.5" cy="212.8" r="4.6"/><circle cx="53.4" cy="215.2" r="5.0"/><circle cx="176.0" cy="177.6" r="5.2"/><circle cx="110.6" cy="170.9" r="5.3"/><circle cx="166.2" cy="167.3" r="5.2"/><circle cx="49.3" cy="162.1" r="4.3"/><circle cx="163.6" cy="190.6" r="4.8"/><circle cx="90.8" cy="169.4" r="4.6"/><circle cx="105.6" cy="167.0" r="4.9"/><circle cx="108.2" cy="191.0" r="5.2"/><circle cx="44.2" cy="177.8" r="4.3"/><circle cx="60.6" cy="160.5" r="5.0"/><circle cx="169.5" cy="184.0" r="4.8"/><circle cx="95.0" cy="213.4" r="4.6"/><circle cx="148.1" cy="188.9" r="5.2"/><circle cx="43.7" cy="167.6" r="4.4"/><circle cx="126.5" cy="181.1" r="4.7"/><circle cx="32.7" cy="198.0" r="4.3"/><circle cx="167.8" cy="206.1" r="5.2"/><circle cx="48.7" cy="173.4" r="5.6"/><circle cx="128.4" cy="216.9" r="5.3"/><circle cx="171.6" cy="216.2" r="5.5"/><circle cx="123.4" cy="197.3" r="5.3"/><circle cx="70.1" cy="201.6" r="4.2"/><circle cx="63.8" cy="166.2" r="5.0"/><circle cx="64.6" cy="200.0" r="4.9"/><circle cx="158.5" cy="201.0" r="4.3"/><circle cx="70.5" cy="215.9" r="5.0"/><circle cx="156.9" cy="189.5" r="5.1"/><circle cx="153.6" cy="167.3" r="5.1"/><circle cx="176.7" cy="209.1" r="5.0"/><circle cx="176.5" cy="159.0" r="4.7"/><circle cx="161.6" cy="185.0" r="5.0"/><circle cx="146.9" cy="177.6" r="4.3"/><circle cx="124.9" cy="165.9" r="4.5"/><circle cx="81.2" cy="214.6" r="4.6"/><circle cx="106.8" cy="201.9" r="4.7"/><circle cx="80.4" cy="181.2" r="5.4"/><circle cx="152.8" cy="196.0" r="5.5"/><circle cx="55.1" cy="208.9" r="5.3"/><circle cx="53.1" cy="196.6" r="4.8"/><circle cx="124.7" cy="211.1" r="4.6"/><circle cx="43.2" cy="183.6" r="4.7"/><circle cx="189.5" cy="209.3" r="5.3"/><circle cx="152.7" cy="215.1" r="4.7"/><circle cx="97.7" cy="184.8" r="4.9"/><circle cx="60.1" cy="215.1" r="5.1"/><circle cx="90.8" cy="190.5" r="4.8"/><circle cx="39.2" cy="193.1" r="4.9"/><circle cx="45.6" cy="195.3" r="4.8"/><circle cx="154.4" cy="175.5" r="4.6"/><circle cx="77.4" cy="155.8" r="5.0"/><circle cx="41.3" cy="200.1" r="4.5"/><circle cx="33.5" cy="164.5" r="4.7"/><circle cx="181.4" cy="181.9" r="4.4"/><circle cx="30.8" cy="169.6" r="5.4"/><circle cx="181.1" cy="155.8" r="5.3"/><circle cx="150.5" cy="209.6" r="5.0"/><circle cx="56.6" cy="154.3" r="4.7"/><circle cx="68.2" cy="180.6" r="5.1"/><circle cx="198.4" cy="202.1" r="4.9"/><circle cx="81.6" cy="170.9" r="5.0"/><circle cx="107.0" cy="154.2" r="4.2"/><circle cx="187.2" cy="180.3" r="4.4"/><circle cx="175.2" cy="165.7" r="4.5"/><circle cx="143.9" cy="185.1" r="5.0"/><circle cx="74.0" cy="162.4" r="5.2"/><circle cx="37.3" cy="176.0" r="5.2"/><circle cx="145.8" cy="166.2" r="5.4"/><circle cx="183.5" cy="161.3" r="4.4"/><circle cx="165.7" cy="179.3" r="5.1"/><circle cx="152.2" cy="183.4" r="5.2"/><circle cx="85.3" cy="165.8" r="4.4"/><circle cx="189.0" cy="187.1" r="5.4"/><circle cx="148.2" cy="160.3" r="4.7"/><circle cx="116.9" cy="157.8" r="5.3"/><circle cx="86.2" cy="184.4" r="4.9"/><circle cx="129.4" cy="200.9" r="4.9"/><circle cx="120.7" cy="216.4" r="4.9"/><circle cx="181.9" cy="196.7" r="5.6"/><circle cx="114.9" cy="215.1" r="4.9"/><circle cx="84.8" cy="154.7" r="5.4"/><circle cx="87.8" cy="196.4" r="5.5"/><circle cx="37.7" cy="215.4" r="4.3"/><circle cx="47.5" cy="204.7" r="5.1"/><circle cx="164.1" cy="216.1" r="4.8"/><circle cx="189.1" cy="162.6" r="5.3"/><circle cx="30.8" cy="210.5" r="5.5"/><circle cx="103.5" cy="173.8" r="4.4"/><circle cx="84.2" cy="207.7" r="4.9"/><circle cx="129.3" cy="191.2" r="4.7"/><circle cx="57.3" cy="180.0" r="5.4"/><circle cx="113.5" cy="163.1" r="5.1"/><circle cx="185.5" cy="214.5" r="5.3"/><circle cx="200.3" cy="211.7" r="4.7"/><circle cx="63.8" cy="192.7" r="5.0"/><circle cx="37.5" cy="208.5" r="4.4"/><circle cx="115.4" cy="190.0" r="4.8"/><circle cx="147.0" cy="204.1" r="4.5"/><circle cx="95.8" cy="198.4" r="5.0"/><circle cx="30.3" cy="191.6" r="4.9"/><circle cx="50.7" cy="181.3" r="5.2"/><circle cx="77.0" cy="167.5" r="5.4"/><circle cx="194.4" cy="214.8" r="4.7"/><circle cx="176.2" cy="192.3" r="5.1"/><circle cx="145.5" cy="154.7" r="5.5"/><circle cx="131.3" cy="172.6" r="4.7"/><circle cx="98.6" cy="206.5" r="5.0"/><circle cx="182.1" cy="167.5" r="4.4"/><circle cx="189.5" cy="156.7" r="4.4"/><circle cx="159.8" cy="162.2" r="4.4"/><circle cx="176.9" cy="171.1" r="4.9"/><circle cx="73.3" cy="182.9" r="5.0"/><circle cx="194.6" cy="169.1" r="4.5"/><circle cx="37.5" cy="170.2" r="5.2"/><circle cx="98.5" cy="177.9" r="5.5"/><circle cx="196.7" cy="183.8" r="5.2"/><circle cx="132.4" cy="163.4" r="4.7"/><circle cx="55.2" cy="168.2" r="5.2"/><circle cx="52.3" cy="187.5" r="4.5"/><circle cx="199.6" cy="190.9" r="5.2"/><circle cx="159.7" cy="154.9" r="4.3"/><circle cx="82.2" cy="160.5" r="4.8"/><circle cx="44.0" cy="216.5" r="4.7"/><circle cx="181.7" cy="176.1" r="5.1"/><circle cx="165.3" cy="156.4" r="4.5"/><circle cx="74.3" cy="197.2" r="5.2"/><circle cx="158.8" cy="180.0" r="5.2"/><circle cx="169.8" cy="193.0" r="4.7"/><circle cx="96.9" cy="190.9" r="4.5"/><circle cx="119.0" cy="169.4" r="4.4"/><circle cx="106.6" cy="213.0" r="4.9"/><circle cx="195.0" cy="195.2" r="5.3"/><circle cx="58.1" cy="188.9" r="4.8"/><circle cx="62.6" cy="184.3" r="5.0"/><circle cx="68.6" cy="158.4" r="5.1"/><circle cx="134.0" cy="154.9" r="4.6"/><circle cx="168.7" cy="161.1" r="4.2"/><circle cx="32.1" cy="157.2" r="4.5"/><circle cx="56.1" cy="202.9" r="5.3"/><circle cx="89.0" cy="204.5" r="4.5"/><circle cx="163.9" cy="196.9" r="4.6"/><circle cx="136.0" cy="197.8" r="5.4"/><circle cx="157.2" cy="210.1" r="5.0"/><circle cx="126.1" cy="174.6" r="4.3"/><circle cx="47.2" cy="211.6" r="5.5"/><circle cx="117.7" cy="196.0" r="5.6"/><circle cx="55.0" cy="174.5" r="5.6"/><circle cx="159.9" cy="172.4" r="4.8"/><circle cx="136.4" cy="176.4" r="4.5"/><circle cx="35.4" cy="185.6" r="5.5"/><circle cx="143.6" cy="210.6" r="4.4"/><circle cx="188.9" cy="170.3" r="4.6"/><circle cx="30.2" cy="181.5" r="4.7"/><circle cx="78.8" cy="205.2" r="4.8"/><circle cx="80.4" cy="189.3" r="4.3"/><circle cx="96.8" cy="169.8" r="5.4"/><circle cx="44.9" cy="157.3" r="4.2"/><circle cx="61.0" cy="206.8" r="5.3"/><circle cx="111.8" cy="180.1" r="5.3"/><circle cx="102.9" cy="158.5" r="5.1"/><circle cx="200.3" cy="164.7" r="5.1"/><circle cx="101.4" cy="199.1" r="4.2"/><circle cx="74.3" cy="174.9" r="5.5"/><circle cx="91.7" cy="181.8" r="5.4"/><circle cx="175.3" cy="184.7" r="5.3"/><circle cx="139.8" cy="192.2" r="5.4"/><circle cx="111.1" cy="196.2" r="4.6"/><circle cx="140.7" cy="158.5" r="4.4"/><circle cx="70.3" cy="168.8" r="4.5"/><circle cx="69.6" cy="189.6" r="5.4"/><circle cx="188.7" cy="194.3" r="4.7"/><circle cx="108.5" cy="207.4" r="4.4"/><circle cx="160.8" cy="215.5" r="5.8"/><circle cx="79.9" cy="172.5" r="5.5"/><circle cx="119.6" cy="166.0" r="4.9"/><circle cx="145.0" cy="206.0" r="5.5"/><circle cx="136.4" cy="199.9" r="5.5"/><circle cx="53.7" cy="213.1" r="5.7"/><circle cx="55.9" cy="161.4" r="4.5"/><circle cx="125.6" cy="156.3" r="4.5"/><circle cx="152.4" cy="184.7" r="4.7"/><circle cx="38.2" cy="192.7" r="4.8"/><circle cx="194.8" cy="208.3" r="5.3"/><circle cx="104.6" cy="159.4" r="4.8"/><circle cx="78.9" cy="200.1" r="4.5"/><circle cx="160.0" cy="175.7" r="4.9"/><circle cx="157.4" cy="203.5" r="5.4"/><circle cx="172.1" cy="163.9" r="4.5"/><circle cx="141.3" cy="190.6" r="4.7"/><circle cx="185.5" cy="191.6" r="5.9"/><circle cx="190.5" cy="199.8" r="5.0"/><circle cx="102.9" cy="184.8" r="4.5"/><circle cx="99.9" cy="216.3" r="5.5"/><circle cx="30.2" cy="171.1" r="5.8"/><circle cx="63.4" cy="210.5" r="4.7"/><circle cx="195.6" cy="184.5" r="4.6"/><circle cx="44.7" cy="209.5" r="5.7"/><circle cx="58.5" cy="171.2" r="5.0"/><circle cx="157.0" cy="161.8" r="4.4"/><circle cx="101.6" cy="200.3" r="5.5"/><circle cx="45.8" cy="166.0" r="5.7"/><circle cx="127.5" cy="190.1" r="5.6"/><circle cx="90.2" cy="198.2" r="4.7"/><circle cx="68.7" cy="194.7" r="5.3"/><circle cx="192.0" cy="169.4" r="5.3"/><circle cx="37.5" cy="202.0" r="5.3"/><circle cx="180.1" cy="205.7" r="5.1"/><circle cx="117.4" cy="186.3" r="4.5"/><circle cx="83.0" cy="164.0" r="5.4"/><circle cx="183.7" cy="156.9" r="4.4"/><circle cx="137.9" cy="178.8" r="5.1"/><circle cx="67.5" cy="172.8" r="5.1"/><circle cx="177.5" cy="182.1" r="5.1"/><circle cx="125.2" cy="209.1" r="4.5"/><circle cx="92.3" cy="166.1" r="4.8"/><circle cx="31.3" cy="184.8" r="4.9"/><circle cx="200.1" cy="174.4" r="5.5"/><circle cx="135.5" cy="156.5" r="5.0"/><circle cx="56.5" cy="187.2" r="5.7"/><circle cx="136.1" cy="168.2" r="4.8"/><circle cx="145.1" cy="161.2" r="4.5"/><circle cx="30.3" cy="154.2" r="5.8"/><circle cx="123.5" cy="200.0" r="5.7"/><circle cx="151.4" cy="213.6" r="4.4"/><circle cx="89.0" cy="207.7" r="5.6"/><circle cx="199.0" cy="163.9" r="5.7"/><circle cx="114.2" cy="197.4" r="5.5"/><circle cx="113.4" cy="155.2" r="4.7"/><circle cx="176.2" cy="194.6" r="4.5"/><circle cx="73.0" cy="164.5" r="5.8"/><circle cx="109.7" cy="207.8" r="4.6"/><circle cx="156.1" cy="193.3" r="5.7"/><circle cx="167.2" cy="189.8" r="5.9"/><circle cx="96.7" cy="178.2" r="5.5"/><circle cx="199.5" cy="194.8" r="5.0"/><circle cx="146.2" cy="173.2" r="5.0"/><circle cx="198.6" cy="216.9" r="5.6"/><circle cx="88.9" cy="186.3" r="4.7"/><circle cx="111.6" cy="216.9" r="5.7"/><circle cx="76.3" cy="187.9" r="5.1"/><circle cx="38.1" cy="177.2" r="5.1"/><circle cx="46.7" cy="186.2" r="5.9"/><circle cx="108.0" cy="168.6" r="4.7"/><circle cx="168.5" cy="178.7" r="4.6"/><circle cx="36.3" cy="162.6" r="5.8"/><circle cx="198.1" cy="155.0" r="4.9"/><circle cx="35.5" cy="216.2" r="5.8"/><circle cx="83.4" cy="154.5" r="5.6"/><circle cx="82.4" cy="215.1" r="4.5"/><circle cx="139.9" cy="217.0" r="4.8"/><circle cx="43.4" cy="155.5" r="5.0"/><circle cx="73.8" cy="207.5" r="5.6"/><circle cx="49.4" cy="201.6" r="5.8"/><circle cx="68.9" cy="156.4" r="4.9"/><circle cx="188.8" cy="216.6" r="5.6"/><circle cx="61.7" cy="201.1" r="4.5"/><circle cx="122.8" cy="179.2" r="4.9"/><circle cx="169.5" cy="203.6" r="4.9"/><circle cx="173.5" cy="154.7" r="5.1"/><circle cx="48.2" cy="177.3" r="4.5"/><circle cx="181.0" cy="173.6" r="5.0"/><circle cx="65.7" cy="185.9" r="5.8"/><circle cx="178.1" cy="214.4" r="4.7"/><circle cx="94.4" cy="156.6" r="5.3"/><circle cx="111.9" cy="178.8" r="5.2"/></g></g>
<g clip-path="url(#ka2)"><rect x="33" y="232" width="165" height="54" fill="#272b30"/><g fill="#7a3c00" stroke="#272b30" stroke-width="1.45"><circle cx="66.9" cy="270.6" r="5.2"/><circle cx="162.8" cy="239.6" r="4.4"/><circle cx="56.6" cy="245.2" r="5.1"/><circle cx="75.2" cy="243.9" r="5.0"/><circle cx="149.1" cy="247.1" r="4.5"/><circle cx="88.7" cy="278.4" r="5.0"/><circle cx="137.7" cy="232.0" r="5.2"/><circle cx="62.5" cy="230.2" r="5.2"/><circle cx="77.8" cy="275.1" r="5.2"/><circle cx="194.7" cy="232.5" r="5.3"/><circle cx="188.3" cy="284.0" r="4.8"/><circle cx="32.4" cy="267.4" r="4.3"/><circle cx="143.1" cy="256.9" r="4.4"/><circle cx="194.0" cy="239.5" r="5.3"/><circle cx="179.0" cy="229.1" r="5.3"/><circle cx="68.0" cy="237.8" r="5.2"/><circle cx="48.3" cy="271.2" r="5.1"/><circle cx="93.0" cy="254.5" r="4.4"/><circle cx="72.3" cy="285.0" r="4.9"/><circle cx="140.6" cy="268.4" r="4.7"/><circle cx="56.4" cy="260.3" r="5.2"/><circle cx="118.5" cy="277.1" r="5.2"/><circle cx="68.4" cy="249.9" r="4.7"/><circle cx="183.5" cy="248.6" r="4.7"/><circle cx="119.9" cy="234.6" r="4.9"/><circle cx="183.2" cy="255.8" r="5.4"/><circle cx="154.8" cy="278.3" r="5.2"/><circle cx="73.0" cy="231.1" r="4.4"/><circle cx="126.4" cy="235.4" r="5.1"/><circle cx="59.5" cy="236.9" r="5.3"/><circle cx="136.6" cy="245.1" r="4.6"/><circle cx="90.2" cy="270.6" r="5.2"/><circle cx="163.0" cy="282.2" r="5.5"/><circle cx="167.2" cy="229.1" r="4.6"/><circle cx="106.7" cy="263.3" r="4.4"/><circle cx="166.5" cy="259.0" r="4.3"/><circle cx="130.9" cy="241.4" r="5.1"/><circle cx="50.2" cy="263.6" r="5.2"/><circle cx="134.7" cy="278.3" r="4.4"/><circle cx="154.5" cy="243.8" r="4.4"/><circle cx="138.2" cy="283.2" r="5.6"/><circle cx="134.8" cy="257.6" r="4.3"/><circle cx="120.3" cy="246.8" r="5.6"/><circle cx="82.9" cy="253.2" r="4.9"/><circle cx="40.0" cy="243.5" r="4.3"/><circle cx="173.9" cy="251.0" r="4.7"/><circle cx="42.2" cy="236.4" r="5.2"/><circle cx="177.0" cy="243.8" r="4.3"/><circle cx="69.3" cy="277.6" r="5.3"/><circle cx="101.3" cy="260.8" r="5.1"/><circle cx="143.5" cy="238.9" r="5.1"/><circle cx="191.1" cy="274.4" r="4.9"/><circle cx="118.0" cy="229.2" r="5.0"/><circle cx="39.9" cy="288.6" r="4.9"/><circle cx="34.4" cy="241.5" r="4.8"/><circle cx="73.8" cy="252.3" r="4.2"/><circle cx="171.7" cy="284.9" r="4.3"/><circle cx="80.7" cy="239.2" r="5.5"/><circle cx="188.4" cy="261.2" r="5.4"/><circle cx="147.2" cy="261.1" r="4.8"/><circle cx="156.0" cy="229.6" r="4.2"/><circle cx="37.9" cy="253.4" r="4.6"/><circle cx="184.4" cy="265.9" r="5.6"/><circle cx="188.8" cy="232.3" r="4.8"/><circle cx="125.2" cy="242.8" r="5.5"/><circle cx="183.0" cy="275.5" r="5.2"/><circle cx="50.2" cy="242.4" r="5.5"/><circle cx="42.0" cy="277.7" r="5.0"/><circle cx="51.8" cy="235.1" r="5.5"/><circle cx="113.5" cy="249.3" r="5.0"/><circle cx="114.5" cy="272.5" r="5.4"/><circle cx="69.9" cy="261.2" r="5.2"/><circle cx="142.7" cy="247.6" r="5.5"/><circle cx="154.2" cy="238.0" r="4.8"/><circle cx="135.1" cy="288.7" r="5.0"/><circle cx="102.9" cy="287.8" r="5.4"/><circle cx="45.7" cy="288.5" r="4.7"/><circle cx="172.1" cy="275.2" r="4.7"/><circle cx="105.7" cy="255.2" r="5.0"/><circle cx="173.7" cy="257.0" r="5.1"/><circle cx="91.2" cy="244.6" r="5.3"/><circle cx="145.9" cy="276.1" r="4.9"/><circle cx="125.5" cy="286.6" r="4.5"/><circle cx="177.2" cy="279.3" r="5.5"/><circle cx="196.2" cy="250.7" r="5.5"/><circle cx="34.8" cy="273.4" r="4.4"/><circle cx="95.7" cy="285.8" r="4.8"/><circle cx="110.5" cy="244.1" r="4.9"/><circle cx="112.1" cy="278.7" r="5.4"/><circle cx="127.3" cy="251.9" r="5.4"/><circle cx="166.7" cy="269.5" r="5.5"/><circle cx="34.1" cy="259.4" r="4.3"/><circle cx="127.7" cy="280.9" r="4.4"/><circle cx="162.5" cy="254.4" r="4.5"/><circle cx="165.4" cy="287.3" r="4.7"/><circle cx="199.8" cy="240.5" r="4.8"/><circle cx="99.8" cy="281.8" r="4.7"/><circle cx="78.6" cy="264.8" r="4.9"/><circle cx="54.5" cy="271.2" r="5.0"/><circle cx="150.7" cy="287.1" r="4.9"/><circle cx="85.3" cy="231.5" r="5.2"/><circle cx="161.4" cy="274.0" r="4.7"/><circle cx="159.1" cy="288.3" r="5.3"/><circle cx="112.9" cy="255.2" r="5.0"/><circle cx="200.9" cy="274.6" r="4.6"/><circle cx="30.1" cy="288.8" r="4.5"/><circle cx="106.9" cy="276.1" r="4.9"/><circle cx="110.3" cy="285.0" r="5.4"/><circle cx="72.4" cy="269.9" r="5.1"/><circle cx="165.7" cy="247.3" r="4.4"/><circle cx="169.9" cy="234.4" r="4.6"/><circle cx="147.0" cy="252.8" r="5.3"/><circle cx="178.2" cy="262.5" r="4.2"/><circle cx="30.7" cy="252.8" r="4.4"/><circle cx="65.0" cy="287.7" r="4.8"/><circle cx="155.9" cy="258.7" r="4.3"/><circle cx="107.2" cy="238.5" r="5.3"/><circle cx="33.0" cy="232.7" r="4.3"/><circle cx="194.2" cy="261.8" r="5.3"/><circle cx="111.7" cy="231.5" r="5.1"/><circle cx="50.1" cy="276.6" r="4.8"/><circle cx="91.0" cy="235.6" r="4.9"/><circle cx="118.5" cy="263.2" r="4.7"/><circle cx="85.1" cy="266.6" r="4.5"/><circle cx="85.6" cy="259.5" r="4.5"/><circle cx="89.1" cy="285.2" r="4.2"/><circle cx="83.6" cy="275.8" r="5.2"/><circle cx="159.0" cy="249.9" r="4.9"/><circle cx="61.2" cy="250.9" r="5.5"/><circle cx="102.9" cy="272.1" r="5.4"/><circle cx="199.1" cy="284.7" r="5.5"/><circle cx="133.5" cy="250.0" r="4.7"/><circle cx="78.3" cy="285.2" r="4.7"/><circle cx="196.1" cy="277.9" r="4.7"/><circle cx="59.1" cy="287.5" r="5.3"/><circle cx="115.0" cy="239.5" r="5.1"/><circle cx="64.0" cy="242.8" r="5.4"/><circle cx="178.0" cy="285.3" r="4.3"/><circle cx="199.4" cy="255.3" r="5.1"/><circle cx="87.3" cy="239.8" r="5.3"/><circle cx="138.0" cy="238.0" r="5.0"/><circle cx="160.7" cy="233.6" r="5.4"/><circle cx="43.6" cy="251.1" r="4.9"/><circle cx="170.4" cy="243.5" r="5.0"/><circle cx="95.1" cy="276.1" r="4.6"/><circle cx="76.7" cy="257.9" r="4.5"/><circle cx="139.8" cy="274.2" r="4.6"/><circle cx="166.7" cy="276.9" r="4.6"/><circle cx="182.5" cy="242.7" r="5.1"/><circle cx="127.7" cy="275.0" r="5.2"/><circle cx="53.4" cy="286.4" r="5.3"/><circle cx="102.4" cy="249.8" r="5.0"/><circle cx="98.5" cy="266.3" r="5.5"/><circle cx="187.7" cy="239.0" r="4.9"/><circle cx="153.9" cy="252.7" r="4.5"/><circle cx="97.7" cy="246.7" r="4.9"/><circle cx="63.1" cy="278.6" r="5.2"/><circle cx="40.6" cy="269.8" r="5.5"/><circle cx="172.1" cy="264.4" r="4.7"/><circle cx="123.5" cy="257.7" r="4.4"/><circle cx="74.7" cy="238.0" r="4.6"/><circle cx="83.4" cy="288.0" r="5.0"/><circle cx="100.9" cy="239.2" r="4.8"/><circle cx="168.3" cy="253.0" r="4.3"/><circle cx="179.0" cy="235.4" r="4.3"/><circle cx="199.8" cy="262.7" r="5.5"/><circle cx="99.0" cy="254.7" r="4.4"/><circle cx="51.0" cy="249.2" r="4.3"/><circle cx="130.7" cy="267.0" r="4.5"/><circle cx="145.5" cy="284.3" r="5.4"/><circle cx="53.4" cy="255.2" r="4.8"/><circle cx="62.3" cy="266.7" r="4.9"/><circle cx="163.7" cy="264.4" r="4.4"/><circle cx="155.5" cy="268.5" r="4.6"/><circle cx="93.1" cy="262.7" r="5.0"/><circle cx="121.1" cy="252.6" r="4.6"/><circle cx="130.0" cy="261.4" r="5.3"/><circle cx="200.6" cy="229.7" r="4.5"/><circle cx="124.4" cy="267.0" r="5.0"/><circle cx="43.2" cy="263.2" r="4.6"/><circle cx="146.3" cy="268.6" r="5.3"/><circle cx="35.2" cy="280.7" r="4.9"/><circle cx="56.0" cy="231.1" r="5.3"/><circle cx="46.2" cy="257.5" r="4.5"/><circle cx="190.3" cy="254.5" r="5.0"/><circle cx="189.6" cy="268.4" r="5.0"/><circle cx="141.4" cy="288.4" r="5.2"/><circle cx="86.3" cy="247.5" r="4.2"/><circle cx="147.2" cy="231.4" r="4.3"/><circle cx="194.6" cy="288.6" r="4.4"/><circle cx="41.5" cy="230.3" r="5.0"/><circle cx="179.2" cy="270.2" r="4.4"/><circle cx="113.1" cy="267.1" r="4.7"/><circle cx="190.8" cy="245.3" r="4.6"/><circle cx="79.7" cy="248.4" r="5.0"/><circle cx="37.7" cy="264.3" r="4.5"/><circle cx="137.6" cy="263.5" r="5.3"/><circle cx="96.0" cy="232.9" r="5.1"/><circle cx="32.6" cy="247.3" r="5.5"/><circle cx="196.5" cy="269.4" r="4.3"/><circle cx="131.0" cy="231.8" r="4.4"/><circle cx="48.2" cy="229.5" r="5.4"/><circle cx="149.7" cy="280.5" r="5.4"/><circle cx="60.8" cy="272.7" r="4.5"/><circle cx="56.4" cy="278.0" r="5.3"/><circle cx="63.1" cy="256.2" r="4.5"/><circle cx="116.3" cy="283.6" r="4.6"/><circle cx="46.2" cy="281.5" r="4.9"/><circle cx="105.7" cy="231.1" r="4.4"/><circle cx="60.7" cy="247.7" r="5.7"/><circle cx="51.7" cy="286.8" r="5.0"/><circle cx="142.8" cy="280.5" r="5.5"/><circle cx="177.1" cy="269.1" r="4.8"/><circle cx="132.3" cy="235.4" r="5.3"/><circle cx="184.9" cy="282.2" r="5.6"/><circle cx="76.3" cy="229.3" r="4.8"/><circle cx="61.8" cy="288.5" r="5.4"/><circle cx="75.8" cy="241.3" r="5.5"/><circle cx="65.5" cy="234.0" r="4.6"/><circle cx="75.8" cy="261.1" r="4.7"/><circle cx="148.8" cy="249.0" r="5.3"/><circle cx="194.4" cy="242.8" r="5.8"/><circle cx="164.8" cy="275.1" r="5.3"/><circle cx="117.6" cy="280.1" r="5.4"/><circle cx="149.3" cy="262.1" r="5.5"/><circle cx="158.7" cy="229.3" r="4.8"/><circle cx="178.3" cy="241.1" r="5.3"/><circle cx="187.1" cy="270.0" r="5.7"/><circle cx="105.6" cy="242.7" r="5.6"/><circle cx="197.3" cy="234.3" r="4.9"/><circle cx="195.3" cy="273.8" r="5.4"/><circle cx="73.5" cy="250.5" r="4.5"/><circle cx="57.0" cy="279.7" r="5.0"/><circle cx="150.3" cy="288.2" r="5.6"/><circle cx="136.3" cy="244.9" r="5.3"/><circle cx="109.3" cy="252.3" r="4.8"/><circle cx="51.3" cy="269.2" r="4.7"/><circle cx="111.7" cy="233.4" r="5.4"/><circle cx="155.1" cy="270.5" r="5.1"/><circle cx="106.3" cy="280.1" r="5.4"/><circle cx="100.0" cy="256.7" r="5.1"/><circle cx="46.7" cy="244.3" r="5.8"/><circle cx="38.8" cy="230.0" r="5.3"/><circle cx="32.0" cy="252.0" r="5.2"/><circle cx="89.6" cy="288.6" r="5.0"/><circle cx="40.4" cy="273.8" r="4.9"/><circle cx="80.4" cy="282.3" r="4.7"/><circle cx="95.3" cy="268.7" r="4.9"/><circle cx="42.8" cy="259.8" r="5.6"/><circle cx="187.1" cy="259.2" r="5.2"/><circle cx="112.1" cy="288.5" r="4.9"/><circle cx="172.7" cy="233.4" r="4.5"/><circle cx="158.1" cy="249.2" r="5.9"/><circle cx="164.0" cy="241.6" r="5.4"/><circle cx="30.2" cy="277.6" r="5.1"/><circle cx="71.1" cy="288.0" r="5.6"/><circle cx="32.2" cy="265.6" r="5.1"/><circle cx="148.5" cy="236.7" r="5.1"/><circle cx="162.2" cy="287.0" r="5.0"/><circle cx="125.2" cy="264.8" r="5.4"/><circle cx="127.7" cy="285.9" r="5.7"/><circle cx="170.5" cy="253.3" r="5.6"/><circle cx="63.9" cy="266.4" r="5.3"/><circle cx="109.7" cy="271.7" r="5.2"/><circle cx="51.5" cy="253.0" r="5.4"/><circle cx="174.9" cy="287.9" r="4.7"/><circle cx="84.8" cy="250.1" r="5.9"/><circle cx="111.2" cy="261.2" r="4.9"/><circle cx="87.3" cy="236.7" r="5.1"/><circle cx="33.1" cy="286.9" r="4.9"/><circle cx="77.8" cy="271.8" r="5.3"/><circle cx="86.2" cy="260.3" r="4.7"/><circle cx="67.9" cy="277.4" r="5.3"/><circle cx="95.4" cy="279.8" r="5.6"/><circle cx="133.4" cy="278.0" r="5.1"/><circle cx="61.8" cy="257.6" r="5.7"/><circle cx="199.8" cy="284.3" r="4.6"/><circle cx="96.4" cy="231.3" r="5.9"/><circle cx="161.2" cy="262.7" r="5.2"/><circle cx="187.2" cy="230.1" r="5.0"/><circle cx="120.2" cy="238.4" r="5.4"/><circle cx="57.4" cy="238.4" r="5.6"/><circle cx="95.3" cy="248.7" r="5.5"/><circle cx="34.4" cy="240.9" r="5.2"/><circle cx="50.2" cy="231.1" r="4.8"/><circle cx="184.8" cy="247.3" r="5.1"/><circle cx="197.9" cy="260.4" r="5.1"/><circle cx="135.1" cy="258.5" r="5.4"/><circle cx="199.2" cy="250.6" r="5.8"/><circle cx="122.7" cy="229.4" r="4.5"/><circle cx="87.2" cy="273.9" r="4.9"/><circle cx="42.2" cy="286.4" r="5.5"/><circle cx="191.6" cy="288.1" r="4.7"/><circle cx="141.0" cy="265.7" r="4.9"/><circle cx="140.8" cy="229.9" r="5.7"/><circle cx="121.1" cy="250.4" r="5.2"/><circle cx="177.2" cy="259.4" r="4.9"/></g></g>
<rect x="33" y="62" width="165" height="17" fill="url(#al)"/>
<rect x="33" y="214" width="165" height="18" fill="url(#cu)"/>
<rect x="33" y="136.0" width="165" height="21.0" fill="#5a5a5a"/><path fill="#fff" d="M33 136.5h2.2v2.2h-2.2zM33 139.5h1.2v2.2h-1.2zM37.5 136h2.2v0.2h-2.2zM36.5 137.5h2.2v2.2h-2.2zM35 141h2.2v2.2h-2.2zM34 144h2.2v2.2h-2.2zM33 147.5h1.7v2.2h-1.7zM33 150.5h0.7v2.2h-0.7zM41 136h2.2v1.7h-2.2zM39.5 138.5h2.2v2.2h-2.2zM38.5 142h2.2v2.2h-2.2zM37 145.5h2.2v2.2h-2.2zM36 148.5h2.2v2.2h-2.2zM35 152h2.2v2.2h-2.2zM33.5 155h2.2v2h-2.2zM44 136.5h2.2v2.2h-2.2zM43 140h2.2v2.2h-2.2zM41.5 143h2.2v2.2h-2.2zM40.5 146.5h2.2v2.2h-2.2zM39.5 150h2.2v2.2h-2.2zM38 153h2.2v2.2h-2.2zM37 156.5h2.2v0.5h-2.2zM48.5 136h2.2v0.7h-2.2zM47.5 138h2.2v2.2h-2.2zM46 141h2.2v2.2h-2.2zM45 144.5h2.2v2.2h-2.2zM44 147.5h2.2v2.2h-2.2zM42.5 151h2.2v2.2h-2.2zM41.5 154h2.2v2.2h-2.2zM52 136h2.2v1.7h-2.2zM50.5 139h2.2v2.2h-2.2zM49.5 142.5h2.2v2.2h-2.2zM48 145.5h2.2v2.2h-2.2zM47 149h2.2v2.2h-2.2zM46 152h2.2v2.2h-2.2zM44.5 155.5h2.2v1.5h-2.2zM55 137h2.2v2.2h-2.2zM54 140h2.2v2.2h-2.2zM52.5 143.5h2.2v2.2h-2.2zM51.5 147h2.2v2.2h-2.2zM50.5 150h2.2v2.2h-2.2zM49 153.5h2.2v2.2h-2.2zM48 156.5h2.2v0.5h-2.2zM59.5 136h2.2v1.2h-2.2zM58.5 138h2.2v2.2h-2.2zM57 141.5h2.2v2.2h-2.2zM56 144.5h2.2v2.2h-2.2zM55 148h2.2v2.2h-2.2zM53.5 151.5h2.2v2.2h-2.2zM52.5 154.5h2.2v2.2h-2.2zM63 136h2.2v2.2h-2.2zM61.5 139.5h2.2v2.2h-2.2zM60.5 142.5h2.2v2.2h-2.2zM59.5 146h2.2v2.2h-2.2zM58 149h2.2v2.2h-2.2zM57 152.5h2.2v2.2h-2.2zM55.5 155.5h2.2v1.5h-2.2zM67.5 136h2.2v0.2h-2.2zM66 137h2.2v2.2h-2.2zM65 140.5h2.2v2.2h-2.2zM64 144h2.2v2.2h-2.2zM62.5 147h2.2v2.2h-2.2zM61.5 150.5h2.2v2.2h-2.2zM60 153.5h2.2v2.2h-2.2zM70.5 136h2.2v1.2h-2.2zM69.5 138.5h2.2v2.2h-2.2zM68.5 141.5h2.2v2.2h-2.2zM67 145h2.2v2.2h-2.2zM66 148.5h2.2v2.2h-2.2zM64.5 151.5h2.2v2.2h-2.2zM63.5 155h2.2v2h-2.2zM74 136.5h2.2v2.2h-2.2zM73 139.5h2.2v2.2h-2.2zM71.5 143h2.2v2.2h-2.2zM70.5 146h2.2v2.2h-2.2zM69 149.5h2.2v2.2h-2.2zM68 153h2.2v2.2h-2.2zM67 156h2.2v1h-2.2zM78.5 136h2.2v0.2h-2.2zM77.5 137.5h2.2v2.2h-2.2zM76 141h2.2v2.2h-2.2zM75 144h2.2v2.2h-2.2zM73.5 147.5h2.2v2.2h-2.2zM72.5 150.5h2.2v2.2h-2.2zM71.5 154h2.2v2.2h-2.2zM81.5 136h2.2v1.7h-2.2zM80.5 138.5h2.2v2.2h-2.2zM79.5 142h2.2v2.2h-2.2zM78 145.5h2.2v2.2h-2.2zM77 148.5h2.2v2.2h-2.2zM76 152h2.2v2.2h-2.2zM74.5 155h2.2v2h-2.2zM85 136.5h2.2v2.2h-2.2zM84 140h2.2v2.2h-2.2zM82.5 143h2.2v2.2h-2.2zM81.5 146.5h2.2v2.2h-2.2zM80 150h2.2v2.2h-2.2zM79 153h2.2v2.2h-2.2zM78 156.5h2.2v0.5h-2.2zM89.5 136h2.2v0.7h-2.2zM88.5 138h2.2v2.2h-2.2zM87 141h2.2v2.2h-2.2zM86 144.5h2.2v2.2h-2.2zM84.5 147.5h2.2v2.2h-2.2zM83.5 151h2.2v2.2h-2.2zM82.5 154.5h2.2v2.2h-2.2zM93 136h2.2v1.7h-2.2zM91.5 139h2.2v2.2h-2.2zM90.5 142.5h2.2v2.2h-2.2zM89 145.5h2.2v2.2h-2.2zM88 149h2.2v2.2h-2.2zM87 152h2.2v2.2h-2.2zM85.5 155.5h2.2v1.5h-2.2zM96 137h2.2v2.2h-2.2zM95 140h2.2v2.2h-2.2zM93.5 143.5h2.2v2.2h-2.2zM92.5 147h2.2v2.2h-2.2zM91.5 150h2.2v2.2h-2.2zM90 153.5h2.2v2.2h-2.2zM89 156.5h2.2v0.5h-2.2zM100.5 136h2.2v1.2h-2.2zM99.5 138h2.2v2.2h-2.2zM98 141.5h2.2v2.2h-2.2zM97 144.5h2.2v2.2h-2.2zM96 148h2.2v2.2h-2.2zM94.5 151.5h2.2v2.2h-2.2zM93.5 154.5h2.2v2.2h-2.2zM104 136h2.2v2.2h-2.2zM102.5 139.5h2.2v2.2h-2.2zM101.5 142.5h2.2v2.2h-2.2zM100.5 146h2.2v2.2h-2.2zM99 149h2.2v2.2h-2.2zM98 152.5h2.2v2.2h-2.2zM96.5 156h2.2v1h-2.2zM108.5 136h2.2v0.2h-2.2zM107 137h2.2v2.2h-2.2zM106 140.5h2.2v2.2h-2.2zM105 144h2.2v2.2h-2.2zM103.5 147h2.2v2.2h-2.2zM102.5 150.5h2.2v2.2h-2.2zM101 153.5h2.2v2.2h-2.2zM111.5 136h2.2v1.2h-2.2zM110.5 138.5h2.2v2.2h-2.2zM109 141.5h2.2v2.2h-2.2zM108 145h2.2v2.2h-2.2zM107 148.5h2.2v2.2h-2.2zM105.5 151.5h2.2v2.2h-2.2zM104.5 155h2.2v2h-2.2zM115 136.5h2.2v2.2h-2.2zM113.5 139.5h2.2v2.2h-2.2zM112.5 143h2.2v2.2h-2.2zM111.5 146h2.2v2.2h-2.2zM110 149.5h2.2v2.2h-2.2zM109 153h2.2v2.2h-2.2zM108 156h2.2v1h-2.2zM119.5 136h2.2v0.2h-2.2zM118 137.5h2.2v2.2h-2.2zM117 141h2.2v2.2h-2.2zM116 144h2.2v2.2h-2.2zM114.5 147.5h2.2v2.2h-2.2zM113.5 150.5h2.2v2.2h-2.2zM112 154h2.2v2.2h-2.2zM122.5 136h2.2v1.7h-2.2zM121.5 138.5h2.2v2.2h-2.2zM120.5 142h2.2v2.2h-2.2zM119 145.5h2.2v2.2h-2.2zM118 148.5h2.2v2.2h-2.2zM116.5 152h2.2v2.2h-2.2zM115.5 155h2.2v2h-2.2zM126 136.5h2.2v2.2h-2.2zM125 140h2.2v2.2h-2.2zM123.5 143h2.2v2.2h-2.2zM122.5 146.5h2.2v2.2h-2.2zM121 150h2.2v2.2h-2.2zM120 153h2.2v2.2h-2.2zM119 156.5h2.2v0.5h-2.2zM130.5 136h2.2v0.7h-2.2zM129.5 138h2.2v2.2h-2.2zM128 141h2.2v2.2h-2.2zM127 144.5h2.2v2.2h-2.2zM125.5 147.5h2.2v2.2h-2.2zM124.5 151h2.2v2.2h-2.2zM123.5 154.5h2.2v2.2h-2.2zM134 136h2.2v1.7h-2.2zM132.5 139h2.2v2.2h-2.2zM131.5 142.5h2.2v2.2h-2.2zM130 145.5h2.2v2.2h-2.2zM129 149h2.2v2.2h-2.2zM128 152h2.2v2.2h-2.2zM126.5 155.5h2.2v1.5h-2.2zM137 137h2.2v2.2h-2.2zM136 140h2.2v2.2h-2.2zM134.5 143.5h2.2v2.2h-2.2zM133.5 147h2.2v2.2h-2.2zM132.5 150h2.2v2.2h-2.2zM131 153.5h2.2v2.2h-2.2zM130 156.5h2.2v0.5h-2.2zM141.5 136h2.2v1.2h-2.2zM140.5 138h2.2v2.2h-2.2zM139 141.5h2.2v2.2h-2.2zM138 144.5h2.2v2.2h-2.2zM137 148h2.2v2.2h-2.2zM135.5 151.5h2.2v2.2h-2.2zM134.5 154.5h2.2v2.2h-2.2zM145 136h2.2v2.2h-2.2zM143.5 139.5h2.2v2.2h-2.2zM142.5 142.5h2.2v2.2h-2.2zM141 146h2.2v2.2h-2.2zM140 149h2.2v2.2h-2.2zM139 152.5h2.2v2.2h-2.2zM137.5 156h2.2v1h-2.2zM149.5 136h2.2v0.2h-2.2zM148 137h2.2v2.2h-2.2zM147 140.5h2.2v2.2h-2.2zM145.5 144h2.2v2.2h-2.2zM144.5 147h2.2v2.2h-2.2zM143.5 150.5h2.2v2.2h-2.2zM142 153.5h2.2v2.2h-2.2zM152.5 136h2.2v1.2h-2.2zM151.5 138.5h2.2v2.2h-2.2zM150 141.5h2.2v2.2h-2.2zM149 145h2.2v2.2h-2.2zM148 148.5h2.2v2.2h-2.2zM146.5 151.5h2.2v2.2h-2.2zM145.5 155h2.2v2h-2.2zM156 136.5h2.2v2.2h-2.2zM154.5 139.5h2.2v2.2h-2.2zM153.5 143h2.2v2.2h-2.2zM152.5 146h2.2v2.2h-2.2zM151 149.5h2.2v2.2h-2.2zM150 153h2.2v2.2h-2.2zM148.5 156h2.2v1h-2.2zM160.5 136h2.2v0.2h-2.2zM159 137.5h2.2v2.2h-2.2zM158 141h2.2v2.2h-2.2zM157 144h2.2v2.2h-2.2zM155.5 147.5h2.2v2.2h-2.2zM154.5 150.5h2.2v2.2h-2.2zM153 154h2.2v2.2h-2.2zM163.5 136h2.2v1.7h-2.2zM162.5 138.5h2.2v2.2h-2.2zM161.5 142h2.2v2.2h-2.2zM160 145.5h2.2v2.2h-2.2zM159 148.5h2.2v2.2h-2.2zM157.5 152h2.2v2.2h-2.2zM156.5 155h2.2v2h-2.2zM167 136.5h2.2v2.2h-2.2zM166 140h2.2v2.2h-2.2zM164.5 143h2.2v2.2h-2.2zM163.5 146.5h2.2v2.2h-2.2zM162 150h2.2v2.2h-2.2zM161 153h2.2v2.2h-2.2zM160 156.5h2.2v0.5h-2.2zM171.5 136h2.2v0.7h-2.2zM170.5 138h2.2v2.2h-2.2zM169 141h2.2v2.2h-2.2zM168 144.5h2.2v2.2h-2.2zM166.5 147.5h2.2v2.2h-2.2zM165.5 151h2.2v2.2h-2.2zM164.5 154.5h2.2v2.2h-2.2zM174.5 136h2.2v1.7h-2.2zM173.5 139h2.2v2.2h-2.2zM172.5 142.5h2.2v2.2h-2.2zM171 145.5h2.2v2.2h-2.2zM170 149h2.2v2.2h-2.2zM169 152h2.2v2.2h-2.2zM167.5 155.5h2.2v1.5h-2.2zM178 137h2.2v2.2h-2.2zM177 140h2.2v2.2h-2.2zM175.5 143.5h2.2v2.2h-2.2zM174.5 147h2.2v2.2h-2.2zM173 150h2.2v2.2h-2.2zM172 153.5h2.2v2.2h-2.2zM171 156.5h2.2v0.5h-2.2zM182.5 136h2.2v1.2h-2.2zM181.5 138h2.2v2.2h-2.2zM180 141.5h2.2v2.2h-2.2zM179 144.5h2.2v2.2h-2.2zM177.5 148h2.2v2.2h-2.2zM176.5 151.5h2.2v2.2h-2.2zM175.5 154.5h2.2v2.2h-2.2zM186 136h2.2v2.2h-2.2zM184.5 139.5h2.2v2.2h-2.2zM183.5 142.5h2.2v2.2h-2.2zM182 146h2.2v2.2h-2.2zM181 149h2.2v2.2h-2.2zM180 152.5h2.2v2.2h-2.2zM178.5 156h2.2v1h-2.2zM190.5 136h2.2v0.2h-2.2zM189 137h2.2v2.2h-2.2zM188 140.5h2.2v2.2h-2.2zM186.5 144h2.2v2.2h-2.2zM185.5 147h2.2v2.2h-2.2zM184.5 150.5h2.2v2.2h-2.2zM183 153.5h2.2v2.2h-2.2zM193.5 136h2.2v1.2h-2.2zM192.5 138.5h2.2v2.2h-2.2zM191 141.5h2.2v2.2h-2.2zM190 145h2.2v2.2h-2.2zM189 148.5h2.2v2.2h-2.2zM187.5 151.5h2.2v2.2h-2.2zM186.5 155h2.2v2h-2.2zM197 136.5h1v2.2h-1zM195.5 139.5h2.2v2.2h-2.2zM194.5 143h2.2v2.2h-2.2zM193.5 146h2.2v2.2h-2.2zM192 149.5h2.2v2.2h-2.2zM191 153h2.2v2.2h-2.2zM189.5 156h2.2v1h-2.2zM196.5 147.5h1.5v2.2h-1.5zM195.5 150.5h2.2v2.2h-2.2zM194 154h2.2v2.2h-2.2zM197.5 155h0.5v2h-0.5z"/>
<rect x="33" y="286.0" width="165" height="21.5" fill="#4a4a4a"/><path fill="#fff" d="M33 286h0.2v1.2h-0.2zM34.5 286.5h2.2v2.2h-2.2zM33 289.5h2.2v2.2h-2.2zM33 293h1.2v2.2h-1.2zM39 286h2.2v0.2h-2.2zM37.5 287.5h2.2v2.2h-2.2zM36.5 291h2.2v2.2h-2.2zM35 294h2.2v2.2h-2.2zM34 297.5h2.2v2.2h-2.2zM33 300.5h2.2v2.2h-2.2zM33 304h0.7v2.2h-0.7zM42 286h2.2v1.7h-2.2zM41 288.5h2.2v2.2h-2.2zM39.5 292h2.2v2.2h-2.2zM38.5 295.5h2.2v2.2h-2.2zM37.5 298.5h2.2v2.2h-2.2zM36 302h2.2v2.2h-2.2zM35 305h2.2v2.2h-2.2zM45.5 286.5h2.2v2.2h-2.2zM44 290h2.2v2.2h-2.2zM43 293h2.2v2.2h-2.2zM42 296.5h2.2v2.2h-2.2zM40.5 300h2.2v2.2h-2.2zM39.5 303h2.2v2.2h-2.2zM38 306.5h2.2v1h-2.2zM50 286h2.2v0.7h-2.2zM48.5 288h2.2v2.2h-2.2zM47.5 291h2.2v2.2h-2.2zM46.5 294.5h2.2v2.2h-2.2zM45 297.5h2.2v2.2h-2.2zM44 301h2.2v2.2h-2.2zM42.5 304h2.2v2.2h-2.2zM53 286h2.2v1.7h-2.2zM52 289h2.2v2.2h-2.2zM50.5 292.5h2.2v2.2h-2.2zM49.5 295.5h2.2v2.2h-2.2zM48.5 299h2.2v2.2h-2.2zM47 302h2.2v2.2h-2.2zM46 305.5h2.2v2h-2.2zM56.5 287h2.2v2.2h-2.2zM55 290h2.2v2.2h-2.2zM54 293.5h2.2v2.2h-2.2zM53 297h2.2v2.2h-2.2zM51.5 300h2.2v2.2h-2.2zM50.5 303.5h2.2v2.2h-2.2zM49 306.5h2.2v1h-2.2zM61 286h2.2v1.2h-2.2zM59.5 288h2.2v2.2h-2.2zM58.5 291.5h2.2v2.2h-2.2zM57.5 294.5h2.2v2.2h-2.2zM56 298h2.2v2.2h-2.2zM55 301.5h2.2v2.2h-2.2zM53.5 304.5h2.2v2.2h-2.2zM64 286h2.2v2.2h-2.2zM63 289.5h2.2v2.2h-2.2zM62 292.5h2.2v2.2h-2.2zM60.5 296h2.2v2.2h-2.2zM59.5 299h2.2v2.2h-2.2zM58 302.5h2.2v2.2h-2.2zM57 305.5h2.2v2h-2.2zM68.5 286h2.2v0.2h-2.2zM67.5 287h2.2v2.2h-2.2zM66.5 290.5h2.2v2.2h-2.2zM65 294h2.2v2.2h-2.2zM64 297h2.2v2.2h-2.2zM62.5 300.5h2.2v2.2h-2.2zM61.5 303.5h2.2v2.2h-2.2zM60.5 307h2.2v0.5h-2.2zM72 286h2.2v1.2h-2.2zM71 288.5h2.2v2.2h-2.2zM69.5 291.5h2.2v2.2h-2.2zM68.5 295h2.2v2.2h-2.2zM67 298.5h2.2v2.2h-2.2zM66 301.5h2.2v2.2h-2.2zM65 305h2.2v2.2h-2.2zM75.5 286.5h2.2v2.2h-2.2zM74 289.5h2.2v2.2h-2.2zM73 293h2.2v2.2h-2.2zM71.5 296h2.2v2.2h-2.2zM70.5 299.5h2.2v2.2h-2.2zM69.5 303h2.2v2.2h-2.2zM68 306h2.2v1.5h-2.2zM80 286h2.2v0.2h-2.2zM78.5 287.5h2.2v2.2h-2.2zM77.5 291h2.2v2.2h-2.2zM76 294h2.2v2.2h-2.2zM75 297.5h2.2v2.2h-2.2zM74 300.5h2.2v2.2h-2.2zM72.5 304h2.2v2.2h-2.2zM71.5 307h2.2v0.5h-2.2zM83 286h2.2v1.7h-2.2zM82 288.5h2.2v2.2h-2.2zM80.5 292h2.2v2.2h-2.2zM79.5 295.5h2.2v2.2h-2.2zM78.5 298.5h2.2v2.2h-2.2zM77 302h2.2v2.2h-2.2zM76 305h2.2v2.2h-2.2zM86.5 286.5h2.2v2.2h-2.2zM85 290h2.2v2.2h-2.2zM84 293h2.2v2.2h-2.2zM82.5 296.5h2.2v2.2h-2.2zM81.5 300h2.2v2.2h-2.2zM80.5 303h2.2v2.2h-2.2zM79 306.5h2.2v1h-2.2zM91 286h2.2v0.7h-2.2zM89.5 288h2.2v2.2h-2.2zM88.5 291h2.2v2.2h-2.2zM87 294.5h2.2v2.2h-2.2zM86 297.5h2.2v2.2h-2.2zM85 301h2.2v2.2h-2.2zM83.5 304.5h2.2v2.2h-2.2zM94 286h2.2v1.7h-2.2zM93 289h2.2v2.2h-2.2zM91.5 292.5h2.2v2.2h-2.2zM90.5 295.5h2.2v2.2h-2.2zM89.5 299h2.2v2.2h-2.2zM88 302h2.2v2.2h-2.2zM87 305.5h2.2v2h-2.2zM97.5 287h2.2v2.2h-2.2zM96 290h2.2v2.2h-2.2zM95 293.5h2.2v2.2h-2.2zM94 297h2.2v2.2h-2.2zM92.5 300h2.2v2.2h-2.2zM91.5 303.5h2.2v2.2h-2.2zM90 306.5h2.2v1h-2.2zM102 286h2.2v1.2h-2.2zM100.5 288h2.2v2.2h-2.2zM99.5 291.5h2.2v2.2h-2.2zM98.5 294.5h2.2v2.2h-2.2zM97 298h2.2v2.2h-2.2zM96 301.5h2.2v2.2h-2.2zM94.5 304.5h2.2v2.2h-2.2zM105 286h2.2v2.2h-2.2zM104 289.5h2.2v2.2h-2.2zM103 292.5h2.2v2.2h-2.2zM101.5 296h2.2v2.2h-2.2zM100.5 299h2.2v2.2h-2.2zM99 302.5h2.2v2.2h-2.2zM98 306h2.2v1.5h-2.2zM109.5 286h2.2v0.2h-2.2zM108.5 287h2.2v2.2h-2.2zM107.5 290.5h2.2v2.2h-2.2zM106 294h2.2v2.2h-2.2zM105 297h2.2v2.2h-2.2zM103.5 300.5h2.2v2.2h-2.2zM102.5 303.5h2.2v2.2h-2.2zM101.5 307h2.2v0.5h-2.2zM113 286h2.2v1.2h-2.2zM111.5 288.5h2.2v2.2h-2.2zM110.5 291.5h2.2v2.2h-2.2zM109.5 295h2.2v2.2h-2.2zM108 298.5h2.2v2.2h-2.2zM107 301.5h2.2v2.2h-2.2zM106 305h2.2v2.2h-2.2zM116 286.5h2.2v2.2h-2.2zM115 289.5h2.2v2.2h-2.2zM114 293h2.2v2.2h-2.2zM112.5 296h2.2v2.2h-2.2zM111.5 299.5h2.2v2.2h-2.2zM110 303h2.2v2.2h-2.2zM109 306h2.2v1.5h-2.2zM120.5 286h2.2v0.2h-2.2zM119.5 287.5h2.2v2.2h-2.2zM118.5 291h2.2v2.2h-2.2zM117 294h2.2v2.2h-2.2zM116 297.5h2.2v2.2h-2.2zM114.5 300.5h2.2v2.2h-2.2zM113.5 304h2.2v2.2h-2.2zM124 286h2.2v1.7h-2.2zM123 288.5h2.2v2.2h-2.2zM121.5 292h2.2v2.2h-2.2zM120.5 295.5h2.2v2.2h-2.2zM119 298.5h2.2v2.2h-2.2zM118 302h2.2v2.2h-2.2zM117 305h2.2v2.2h-2.2zM127.5 286.5h2.2v2.2h-2.2zM126 290h2.2v2.2h-2.2zM125 293h2.2v2.2h-2.2zM123.5 296.5h2.2v2.2h-2.2zM122.5 300h2.2v2.2h-2.2zM121.5 303h2.2v2.2h-2.2zM120 306.5h2.2v1h-2.2zM132 286h2.2v0.7h-2.2zM130.5 288h2.2v2.2h-2.2zM129.5 291h2.2v2.2h-2.2zM128 294.5h2.2v2.2h-2.2zM127 297.5h2.2v2.2h-2.2zM126 301h2.2v2.2h-2.2zM124.5 304.5h2.2v2.2h-2.2zM135 286h2.2v1.7h-2.2zM134 289h2.2v2.2h-2.2zM132.5 292.5h2.2v2.2h-2.2zM131.5 295.5h2.2v2.2h-2.2zM130.5 299h2.2v2.2h-2.2zM129 302h2.2v2.2h-2.2zM128 305.5h2.2v2h-2.2zM138.5 287h2.2v2.2h-2.2zM137 290h2.2v2.2h-2.2zM136 293.5h2.2v2.2h-2.2zM135 297h2.2v2.2h-2.2zM133.5 300h2.2v2.2h-2.2zM132.5 303.5h2.2v2.2h-2.2zM131 306.5h2.2v1h-2.2zM143 286h2.2v1.2h-2.2zM141.5 288h2.2v2.2h-2.2zM140.5 291.5h2.2v2.2h-2.2zM139.5 294.5h2.2v2.2h-2.2zM138 298h2.2v2.2h-2.2zM137 301.5h2.2v2.2h-2.2zM135.5 304.5h2.2v2.2h-2.2zM146 286h2.2v2.2h-2.2zM145 289.5h2.2v2.2h-2.2zM143.5 292.5h2.2v2.2h-2.2zM142.5 296h2.2v2.2h-2.2zM141.5 299h2.2v2.2h-2.2zM140 302.5h2.2v2.2h-2.2zM139 306h2.2v1.5h-2.2zM150.5 286h2.2v0.2h-2.2zM149.5 287h2.2v2.2h-2.2zM148 290.5h2.2v2.2h-2.2zM147 294h2.2v2.2h-2.2zM146 297h2.2v2.2h-2.2zM144.5 300.5h2.2v2.2h-2.2zM143.5 303.5h2.2v2.2h-2.2zM142 307h2.2v0.5h-2.2zM154 286h2.2v1.2h-2.2zM152.5 288.5h2.2v2.2h-2.2zM151.5 291.5h2.2v2.2h-2.2zM150.5 295h2.2v2.2h-2.2zM149 298.5h2.2v2.2h-2.2zM148 301.5h2.2v2.2h-2.2zM146.5 305h2.2v2.2h-2.2zM157 286.5h2.2v2.2h-2.2zM156 289.5h2.2v2.2h-2.2zM155 293h2.2v2.2h-2.2zM153.5 296h2.2v2.2h-2.2zM152.5 299.5h2.2v2.2h-2.2zM151 303h2.2v2.2h-2.2zM150 306h2.2v1.5h-2.2zM161.5 286h2.2v0.2h-2.2zM160.5 287.5h2.2v2.2h-2.2zM159.5 291h2.2v2.2h-2.2zM158 294h2.2v2.2h-2.2zM157 297.5h2.2v2.2h-2.2zM155.5 300.5h2.2v2.2h-2.2zM154.5 304h2.2v2.2h-2.2zM165 286h2.2v1.7h-2.2zM164 288.5h2.2v2.2h-2.2zM162.5 292h2.2v2.2h-2.2zM161.5 295.5h2.2v2.2h-2.2zM160 298.5h2.2v2.2h-2.2zM159 302h2.2v2.2h-2.2zM158 305h2.2v2.2h-2.2zM168.5 286.5h2.2v2.2h-2.2zM167 290h2.2v2.2h-2.2zM166 293h2.2v2.2h-2.2zM164.5 296.5h2.2v2.2h-2.2zM163.5 300h2.2v2.2h-2.2zM162.5 303h2.2v2.2h-2.2zM161 306.5h2.2v1h-2.2zM172.5 286h2.2v0.7h-2.2zM171.5 288h2.2v2.2h-2.2zM170.5 291h2.2v2.2h-2.2zM169 294.5h2.2v2.2h-2.2zM168 297.5h2.2v2.2h-2.2zM167 301h2.2v2.2h-2.2zM165.5 304.5h2.2v2.2h-2.2zM176 286h2.2v1.7h-2.2zM175 289h2.2v2.2h-2.2zM173.5 292.5h2.2v2.2h-2.2zM172.5 295.5h2.2v2.2h-2.2zM171 299h2.2v2.2h-2.2zM170 302h2.2v2.2h-2.2zM169 305.5h2.2v2h-2.2zM179.5 287h2.2v2.2h-2.2zM178 290h2.2v2.2h-2.2zM177 293.5h2.2v2.2h-2.2zM175.5 297h2.2v2.2h-2.2zM174.5 300h2.2v2.2h-2.2zM173.5 303.5h2.2v2.2h-2.2zM172 306.5h2.2v1h-2.2zM184 286h2.2v1.2h-2.2zM182.5 288h2.2v2.2h-2.2zM181.5 291.5h2.2v2.2h-2.2zM180 294.5h2.2v2.2h-2.2zM179 298h2.2v2.2h-2.2zM178 301.5h2.2v2.2h-2.2zM176.5 304.5h2.2v2.2h-2.2zM187 286h2.2v2.2h-2.2zM186 289.5h2.2v2.2h-2.2zM184.5 292.5h2.2v2.2h-2.2zM183.5 296h2.2v2.2h-2.2zM182.5 299h2.2v2.2h-2.2zM181 302.5h2.2v2.2h-2.2zM180 306h2.2v1.5h-2.2zM191.5 286h2.2v0.2h-2.2zM190.5 287h2.2v2.2h-2.2zM189 290.5h2.2v2.2h-2.2zM188 294h2.2v2.2h-2.2zM187 297h2.2v2.2h-2.2zM185.5 300.5h2.2v2.2h-2.2zM184.5 303.5h2.2v2.2h-2.2zM183 307h2.2v0.5h-2.2zM195 286h2.2v1.2h-2.2zM193.5 288.5h2.2v2.2h-2.2zM192.5 291.5h2.2v2.2h-2.2zM191.5 295h2.2v2.2h-2.2zM190 298.5h2.2v2.2h-2.2zM189 301.5h2.2v2.2h-2.2zM187.5 305h2.2v2.2h-2.2zM197 289.5h1v2.2h-1zM196 293h2v2.2h-2zM194.5 296h2.2v2.2h-2.2zM193.5 299.5h2.2v2.2h-2.2zM192 303h2.2v2.2h-2.2zM191 306h2.2v1.5h-2.2zM196.5 300.5h1.5v2.2h-1.5zM195.5 304h2.2v2.2h-2.2z"/>
<line x1="33" x2="198" y1="62.2" y2="62.2" stroke="#3a659e" stroke-width="1.6"/>
<line x1="33" x2="198" y1="78.8" y2="78.8" stroke="#3a659e" stroke-width="1.6"/>
<line x1="33" x2="198" y1="136.3" y2="136.3" stroke="#3a659e" stroke-width="1.6"/>
<line x1="33" x2="198" y1="157.0" y2="157.0" stroke="#3a659e" stroke-width="1.6"/>
<line x1="33" x2="198" y1="214.6" y2="214.6" stroke="#3a659e" stroke-width="1.6"/>
<line x1="33" x2="198" y1="231.6" y2="231.6" stroke="#3a659e" stroke-width="1.6"/>
<line x1="33" x2="198" y1="286.0" y2="286.0" stroke="#3a659e" stroke-width="1.6"/>
<line x1="33" x2="198" y1="307.6" y2="307.6" stroke="#3a659e" stroke-width="1.6"/>
<g stroke="#000" stroke-width="1.6" fill="none"><path d="M24 214V71.5M19.2 80.2L24 71L28.8 80.2M24 135.6H30.5"/></g>
<text class="l" transform="translate(16.3 135.6) rotate(-90)" text-anchor="middle">0</text>
<text class="l" x="204.4" y="31.6">Cathode</text>
<text class="l" x="204.4" y="49.4">NCA, 70 vol%</text>
<text class="l" x="204.4" y="76.7">Al foil, 15 um</text>
<text class="l" x="204.4" y="107.1">Cathode</text>
<text class="l" x="204.4" y="125.1">NCA, 70 vol%</text>
<text class="l" x="204.4" y="152.2">Separator, 20 um</text>
<text class="l" x="204.4" y="184.0">Anode</text>
<text class="l" x="204.4" y="201.8">Graphite 70 vol%</text>
<text class="l" x="204.4" y="228.9">Cu foil, 15 um</text>
<text class="l" x="204.4" y="258.3">Anode</text>
<text class="l" x="204.4" y="276.0">Graphite 70 vol%</text>
<text class="l" x="204.4" y="301.8">Separator, 20 um</text>
<path class="c" stroke="#000" d="M371.0 107.5L441.0 115.5L489.0 126.5L538.0 148.0L566.4 168.5L603.5 208.5L627.1 243.5L644.5 280.0"/>
<path class="c d" stroke="#000" d="M371.0 104.2L441.0 107.8L490.0 114.8L541.0 137.0L570.0 158.5L608.0 199.5L634.0 234.0L663.0 273.0"/>
<path class="c" stroke="#1a1aff" d="M375.4 82.5L444.0 91.4L493.0 104.3L543.0 129.3L572.0 155.6L583.0 171.0L597.1 211.4"/>
<path class="c d" stroke="#1a1aff" d="M375.4 79.3L444.0 83.2L494.0 91.5L545.0 116.0L575.0 142.0L594.0 165.0L617.0 199.5"/>
<path class="c" stroke="#00ffff" d="M378.8 68.6L446.0 78.8L497.0 94.0L523.0 106.5L547.0 130.0L558.5 159.2"/>
<path class="c d" stroke="#00ffff" d="M378.8 64.9L446.0 70.3L497.0 80.0L527.0 94.0L549.0 112.0L562.0 124.0L575.6 142.0"/>
<path class="c" stroke="#00ff00" d="M380.7 60.1L449.0 71.5L472.0 77.3L500.0 90.5L512.0 99.0L520.0 112.0L526.2 127.1"/>
<path class="c d" stroke="#00ff00" d="M380.7 56.1L449.0 62.8L500.0 75.6L516.0 83.5L534.0 98.5L547.0 115.6"/>
<path class="c" stroke="#ff1a1a" d="M382.1 53.9L451.0 69.0L482.0 79.2L497.0 99.2L505.5 121.3"/>
<path class="c d" stroke="#ff1a1a" d="M382.1 50.7L451.0 57.0L487.0 67.8L502.0 76.8"/>
<path class="c" stroke="#7a4646" d="M383.5 50.8L433.7 59.9L453.0 65.5L463.0 71.5L469.2 77.8L474.2 87.0L483.4 106.7"/>
<path class="c d" stroke="#7a4646" d="M383.5 46.8L433.7 52.7L455.0 57.5L482.0 68.2"/>
<path class="c" stroke="#3f7f7f" d="M383.5 48.0L413.0 52.5L433.0 59.6L448.5 68.0L452.0 74.0L463.4 94.6"/>
<path class="c d" stroke="#3f7f7f" d="M383.5 44.0L413.0 47.1L433.0 51.8L461.3 60.6"/>
<rect x="371.0" y="35.0" width="291.0" height="242.8" class="t" style="stroke-width:1.35"/>
<path class="t" d="M400.8 277.8v-3M422.3 277.8v-3M438.9 277.8v-3M452.5 277.8v-3M463.9 277.8v-3M473.9 277.8v-3M482.7 277.8v-3M490.5 277.8v-5M542.1 277.8v-3M572.3 277.8v-3M593.8 277.8v-3M610.4 277.8v-3M624.0 277.8v-3M635.4 277.8v-3M645.4 277.8v-3M654.2 277.8v-3M411.4 35.0v3M441.6 35.0v3M463.1 35.0v3M479.7 35.0v3M493.3 35.0v3M504.7 35.0v3M514.7 35.0v3M523.5 35.0v3M531.3 35.0v5M582.9 35.0v3M613.1 35.0v3M634.6 35.0v3M651.2 35.0v3M371.0 247.5h3M371.0 217.1h5M371.0 186.8h3M371.0 156.4h5M371.0 126.1h3M371.0 95.7h5M371.0 65.3h3M662.0 267.8h-3M662.0 241.5h-6M662.0 215.2h-3M662.0 189.0h-6M662.0 162.8h-3M662.0 136.5h-6M662.0 110.2h-3M662.0 84.0h-6M662.0 57.8h-3"/>
<text class="a" x="366.3" y="36.9" text-anchor="end">12</text>
<text class="a" x="366.3" y="98.3" text-anchor="end">10</text>
<text class="a" x="366.3" y="159.0" text-anchor="end">8</text>
<text class="a" x="366.3" y="219.7" text-anchor="end">6</text>
<text class="a" x="366.3" y="280.4" text-anchor="end">4</text>
<text class="a" x="666.6" y="86.7">600</text>
<text class="a" x="666.6" y="139.0">500</text>
<text class="a" x="666.6" y="191.3">400</text>
<text class="a" x="666.6" y="243.6">300</text>
<text class="a" x="490.7" y="292.5" text-anchor="middle">10</text>
<text class="a" x="661.5" y="292.5" text-anchor="middle">100</text>
<text class="a" x="531.1" y="26.1" text-anchor="middle">1000</text>
<text class="a" x="516.4" y="11.8" text-anchor="middle">Power density (W/L)</text>
<text class="a" x="516.4" y="310.5" text-anchor="middle">18650 Cell Power (W)</text>
<text class="a" transform="translate(345.4 155.6) rotate(-90)" text-anchor="middle">18650 Cell Energy (Wh)</text>
<text class="a" transform="translate(703.8 156.8) rotate(-90)" text-anchor="middle">Energy density (Wh/L)</text>
<text class="a" style="font-size:13.45px" x="382.8" y="231.3">Solid lines for baseline</text>
<text class="a" style="font-size:13.45px" x="382.8" y="249.1">Dash lines for approach (c)</text>
<path class="c" stroke="#000" d="M584.5 47.8H607"/><text class="g" x="612" y="50.2">60 µm</text>
<path class="c" stroke="#1a1aff" d="M584.5 63.7H607"/><text class="g" x="612" y="66.1">90 µm</text>
<path class="c" stroke="#00ffff" d="M584.5 79.6H607"/><text class="g" x="612" y="82.0">120 µm</text>
<path class="c" stroke="#00ff00" d="M584.5 95.5H607"/><text class="g" x="612" y="97.9">150 µm</text>
<path class="c" stroke="#ff1a1a" d="M584.5 111.4H607"/><text class="g" x="612" y="113.8">180 µm</text>
<path class="c" stroke="#7a4646" d="M584.5 127.3H607"/><text class="g" x="612" y="129.7">210 µm</text>
<path class="c" stroke="#3f7f7f" d="M584.5 143.2H607"/><text class="g" x="612" y="145.6">240 µm</text>
</svg>
</body></html>
